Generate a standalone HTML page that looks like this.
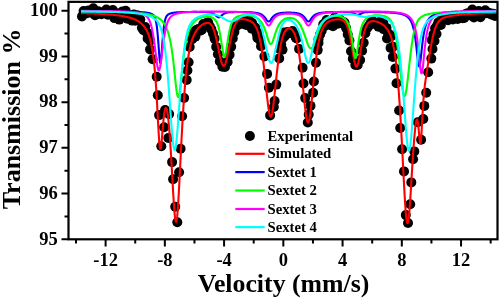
<!DOCTYPE html><html><head><meta charset="utf-8"><style>html,body{margin:0;padding:0;background:#fff;}svg{display:block;}</style></head><body>
<svg width="500" height="298" viewBox="0 0 500 298">
<rect x="0" y="0" width="500" height="298" fill="#fff"/>
<defs><clipPath id="c"><rect x="68.5" y="1.85" width="429.0" height="237.45000000000002"/></clipPath></defs>
<g clip-path="url(#c)" fill="#000"><circle cx="82.0" cy="16.4" r="5"/><circle cx="83.6" cy="11.1" r="5"/><circle cx="85.2" cy="12.4" r="5"/><circle cx="86.9" cy="13.3" r="5"/><circle cx="88.5" cy="10.4" r="5"/><circle cx="90.1" cy="12.4" r="5"/><circle cx="91.7" cy="12.5" r="5"/><circle cx="93.3" cy="8.2" r="5"/><circle cx="95.0" cy="15.2" r="5"/><circle cx="96.6" cy="14.2" r="5"/><circle cx="98.2" cy="11.2" r="5"/><circle cx="99.8" cy="12.4" r="5"/><circle cx="101.4" cy="14.2" r="5"/><circle cx="103.1" cy="12.4" r="5"/><circle cx="104.7" cy="12.5" r="5"/><circle cx="106.3" cy="9.6" r="5"/><circle cx="107.9" cy="14.8" r="5"/><circle cx="109.5" cy="13.8" r="5"/><circle cx="111.2" cy="14.3" r="5"/><circle cx="112.8" cy="10.0" r="5"/><circle cx="114.4" cy="18.1" r="5"/><circle cx="116.0" cy="14.5" r="5"/><circle cx="117.6" cy="13.4" r="5"/><circle cx="119.3" cy="19.6" r="5"/><circle cx="120.9" cy="14.7" r="5"/><circle cx="122.5" cy="11.4" r="5"/><circle cx="124.1" cy="14.3" r="5"/><circle cx="125.7" cy="10.7" r="5"/><circle cx="127.3" cy="18.8" r="5"/><circle cx="129.0" cy="15.7" r="5"/><circle cx="130.6" cy="15.4" r="5"/><circle cx="132.2" cy="20.6" r="5"/><circle cx="133.8" cy="14.5" r="5"/><circle cx="135.4" cy="20.8" r="5"/><circle cx="137.1" cy="15.3" r="5"/><circle cx="138.7" cy="19.8" r="5"/><circle cx="140.3" cy="19.6" r="5"/><circle cx="141.9" cy="27.7" r="5"/><circle cx="143.5" cy="30.2" r="5"/><circle cx="145.2" cy="27.1" r="5"/><circle cx="146.8" cy="32.8" r="5"/><circle cx="147.6" cy="38.5" r="5"/><circle cx="148.4" cy="33.8" r="5"/><circle cx="150.0" cy="40.6" r="5"/><circle cx="150.1" cy="49.4" r="5"/><circle cx="152.6" cy="59.2" r="5"/><circle cx="156.7" cy="76.8" r="5"/><circle cx="157.8" cy="95.3" r="5"/><circle cx="159.1" cy="115.1" r="5"/><circle cx="161.3" cy="146.3" r="5"/><circle cx="164.1" cy="127.2" r="5"/><circle cx="165.1" cy="110.1" r="5"/><circle cx="168.3" cy="138.0" r="5"/><circle cx="169.1" cy="114.1" r="5"/><circle cx="172.1" cy="162.1" r="5"/><circle cx="173.1" cy="179.2" r="5"/><circle cx="175.2" cy="206.7" r="5"/><circle cx="177.3" cy="222.2" r="5"/><circle cx="179.1" cy="172.2" r="5"/><circle cx="180.6" cy="148.8" r="5"/><circle cx="182.1" cy="116.2" r="5"/><circle cx="184.1" cy="98.0" r="5"/><circle cx="186.7" cy="80.0" r="5"/><circle cx="187.4" cy="70.5" r="5"/><circle cx="188.6" cy="62.3" r="5"/><circle cx="189.7" cy="47.0" r="5"/><circle cx="192.1" cy="38.8" r="5"/><circle cx="192.1" cy="39.3" r="5"/><circle cx="193.8" cy="33.0" r="5"/><circle cx="195.4" cy="36.6" r="5"/><circle cx="195.6" cy="30.6" r="5"/><circle cx="197.0" cy="29.8" r="5"/><circle cx="198.6" cy="29.0" r="5"/><circle cx="200.2" cy="30.8" r="5"/><circle cx="201.9" cy="29.8" r="5"/><circle cx="203.3" cy="24.1" r="5"/><circle cx="203.5" cy="24.5" r="5"/><circle cx="204.9" cy="24.1" r="5"/><circle cx="206.5" cy="23.1" r="5"/><circle cx="208.1" cy="22.2" r="5"/><circle cx="209.8" cy="26.2" r="5"/><circle cx="211.4" cy="29.4" r="5"/><circle cx="213.0" cy="33.6" r="5"/><circle cx="214.6" cy="38.6" r="5"/><circle cx="216.2" cy="46.9" r="5"/><circle cx="217.9" cy="54.3" r="5"/><circle cx="219.8" cy="61.4" r="5"/><circle cx="222.4" cy="66.8" r="5"/><circle cx="225.0" cy="66.9" r="5"/><circle cx="227.6" cy="61.9" r="5"/><circle cx="229.6" cy="54.8" r="5"/><circle cx="231.2" cy="46.8" r="5"/><circle cx="232.8" cy="38.4" r="5"/><circle cx="234.4" cy="31.9" r="5"/><circle cx="236.0" cy="26.5" r="5"/><circle cx="237.7" cy="24.1" r="5"/><circle cx="239.3" cy="24.4" r="5"/><circle cx="240.9" cy="22.4" r="5"/><circle cx="242.3" cy="22.3" r="5"/><circle cx="242.5" cy="20.9" r="5"/><circle cx="244.0" cy="21.5" r="5"/><circle cx="245.6" cy="24.8" r="5"/><circle cx="247.2" cy="24.9" r="5"/><circle cx="248.8" cy="20.4" r="5"/><circle cx="250.4" cy="25.3" r="5"/><circle cx="251.8" cy="28.7" r="5"/><circle cx="252.1" cy="23.1" r="5"/><circle cx="253.7" cy="29.0" r="5"/><circle cx="255.3" cy="27.5" r="5"/><circle cx="256.9" cy="34.3" r="5"/><circle cx="257.4" cy="37.9" r="5"/><circle cx="258.5" cy="33.3" r="5"/><circle cx="260.2" cy="40.4" r="5"/><circle cx="261.0" cy="46.3" r="5"/><circle cx="264.4" cy="56.4" r="5"/><circle cx="267.1" cy="73.9" r="5"/><circle cx="268.9" cy="87.8" r="5"/><circle cx="270.1" cy="115.4" r="5"/><circle cx="273.8" cy="107.0" r="5"/><circle cx="274.6" cy="101.0" r="5"/><circle cx="276.3" cy="84.6" r="5"/><circle cx="279.2" cy="58.4" r="5"/><circle cx="279.8" cy="49.0" r="5"/><circle cx="281.2" cy="44.6" r="5"/><circle cx="282.5" cy="49.7" r="5"/><circle cx="282.8" cy="38.1" r="5"/><circle cx="284.1" cy="32.4" r="5"/><circle cx="284.5" cy="36.4" r="5"/><circle cx="286.1" cy="33.5" r="5"/><circle cx="287.7" cy="32.0" r="5"/><circle cx="289.3" cy="33.2" r="5"/><circle cx="290.9" cy="32.0" r="5"/><circle cx="292.5" cy="31.0" r="5"/><circle cx="294.2" cy="34.1" r="5"/><circle cx="295.8" cy="37.8" r="5"/><circle cx="296.7" cy="38.4" r="5"/><circle cx="299.1" cy="48.9" r="5"/><circle cx="302.6" cy="67.7" r="5"/><circle cx="303.5" cy="83.5" r="5"/><circle cx="305.2" cy="98.1" r="5"/><circle cx="307.8" cy="122.5" r="5"/><circle cx="308.7" cy="114.6" r="5"/><circle cx="310.5" cy="105.9" r="5"/><circle cx="313.1" cy="92.8" r="5"/><circle cx="313.9" cy="81.5" r="5"/><circle cx="316.0" cy="62.7" r="5"/><circle cx="317.7" cy="50.1" r="5"/><circle cx="318.5" cy="43.0" r="5"/><circle cx="318.5" cy="39.2" r="5"/><circle cx="320.1" cy="34.4" r="5"/><circle cx="321.7" cy="30.8" r="5"/><circle cx="323.3" cy="24.3" r="5"/><circle cx="324.9" cy="26.0" r="5"/><circle cx="326.6" cy="20.1" r="5"/><circle cx="328.2" cy="23.1" r="5"/><circle cx="329.8" cy="24.6" r="5"/><circle cx="331.4" cy="25.1" r="5"/><circle cx="333.0" cy="26.2" r="5"/><circle cx="334.7" cy="17.5" r="5"/><circle cx="336.3" cy="22.9" r="5"/><circle cx="337.9" cy="23.7" r="5"/><circle cx="339.5" cy="23.0" r="5"/><circle cx="339.6" cy="19.2" r="5"/><circle cx="341.3" cy="21.0" r="5"/><circle cx="342.9" cy="23.6" r="5"/><circle cx="344.5" cy="22.5" r="5"/><circle cx="346.1" cy="28.1" r="5"/><circle cx="347.7" cy="34.5" r="5"/><circle cx="349.4" cy="40.5" r="5"/><circle cx="351.0" cy="51.2" r="5"/><circle cx="352.8" cy="58.7" r="5"/><circle cx="355.3" cy="65.0" r="5"/><circle cx="357.7" cy="65.0" r="5"/><circle cx="360.1" cy="60.0" r="5"/><circle cx="362.1" cy="50.7" r="5"/><circle cx="363.7" cy="42.7" r="5"/><circle cx="365.3" cy="33.2" r="5"/><circle cx="366.9" cy="28.5" r="5"/><circle cx="368.6" cy="26.2" r="5"/><circle cx="370.2" cy="23.8" r="5"/><circle cx="371.8" cy="21.0" r="5"/><circle cx="373.4" cy="22.7" r="5"/><circle cx="373.5" cy="21.6" r="5"/><circle cx="375.1" cy="24.0" r="5"/><circle cx="376.8" cy="24.0" r="5"/><circle cx="378.4" cy="26.7" r="5"/><circle cx="380.0" cy="24.4" r="5"/><circle cx="381.6" cy="20.2" r="5"/><circle cx="383.2" cy="22.3" r="5"/><circle cx="383.5" cy="29.1" r="5"/><circle cx="384.9" cy="28.8" r="5"/><circle cx="386.5" cy="27.9" r="5"/><circle cx="387.0" cy="38.5" r="5"/><circle cx="388.1" cy="33.7" r="5"/><circle cx="389.7" cy="34.5" r="5"/><circle cx="390.6" cy="47.9" r="5"/><circle cx="391.3" cy="36.2" r="5"/><circle cx="392.8" cy="57.0" r="5"/><circle cx="393.0" cy="46.7" r="5"/><circle cx="395.4" cy="68.6" r="5"/><circle cx="396.5" cy="83.3" r="5"/><circle cx="399.1" cy="110.5" r="5"/><circle cx="400.2" cy="128.0" r="5"/><circle cx="402.1" cy="149.2" r="5"/><circle cx="404.0" cy="171.4" r="5"/><circle cx="405.8" cy="215.1" r="5"/><circle cx="408.0" cy="223.0" r="5"/><circle cx="410.2" cy="204.2" r="5"/><circle cx="411.3" cy="182.4" r="5"/><circle cx="413.1" cy="159.2" r="5"/><circle cx="414.3" cy="151.4" r="5"/><circle cx="417.8" cy="122.2" r="5"/><circle cx="421.1" cy="139.7" r="5"/><circle cx="423.3" cy="119.0" r="5"/><circle cx="424.3" cy="105.9" r="5"/><circle cx="426.2" cy="92.7" r="5"/><circle cx="428.2" cy="72.3" r="5"/><circle cx="431.3" cy="58.6" r="5"/><circle cx="431.8" cy="40.1" r="5"/><circle cx="432.5" cy="49.0" r="5"/><circle cx="433.5" cy="34.4" r="5"/><circle cx="434.5" cy="41.0" r="5"/><circle cx="435.1" cy="28.2" r="5"/><circle cx="436.5" cy="34.0" r="5"/><circle cx="436.7" cy="26.2" r="5"/><circle cx="438.3" cy="22.4" r="5"/><circle cx="439.9" cy="24.5" r="5"/><circle cx="440.9" cy="25.0" r="5"/><circle cx="441.6" cy="19.0" r="5"/><circle cx="443.2" cy="18.8" r="5"/><circle cx="444.8" cy="16.8" r="5"/><circle cx="446.4" cy="19.0" r="5"/><circle cx="448.0" cy="20.3" r="5"/><circle cx="449.7" cy="16.4" r="5"/><circle cx="451.3" cy="17.8" r="5"/><circle cx="452.9" cy="19.5" r="5"/><circle cx="454.5" cy="17.1" r="5"/><circle cx="456.1" cy="15.7" r="5"/><circle cx="457.7" cy="19.0" r="5"/><circle cx="459.4" cy="16.4" r="5"/><circle cx="461.0" cy="16.8" r="5"/><circle cx="462.6" cy="18.3" r="5"/><circle cx="464.2" cy="17.9" r="5"/><circle cx="465.8" cy="13.9" r="5"/><circle cx="467.5" cy="13.3" r="5"/><circle cx="469.1" cy="15.2" r="5"/><circle cx="470.7" cy="14.1" r="5"/><circle cx="472.3" cy="9.6" r="5"/><circle cx="473.9" cy="17.4" r="5"/><circle cx="475.6" cy="14.2" r="5"/><circle cx="477.2" cy="15.9" r="5"/><circle cx="478.8" cy="11.1" r="5"/><circle cx="480.4" cy="17.2" r="5"/><circle cx="482.0" cy="12.4" r="5"/><circle cx="483.7" cy="13.6" r="5"/><circle cx="485.3" cy="10.3" r="5"/><circle cx="486.9" cy="13.3" r="5"/><circle cx="488.5" cy="13.1" r="5"/><circle cx="490.1" cy="13.2" r="5"/><circle cx="491.8" cy="14.7" r="5"/><circle cx="493.4" cy="13.7" r="5"/><circle cx="495.0" cy="15.9" r="5"/></g>
<g clip-path="url(#c)" fill="none" stroke-width="2.1" stroke-linejoin="round">
<polyline stroke="#ff0000" points="81.00,13.15 81.26,13.16 81.52,13.16 81.78,13.17 82.04,13.18 82.30,13.18 82.56,13.19 82.82,13.20 83.08,13.21 83.34,13.21 83.60,13.22 83.86,13.23 84.12,13.24 84.38,13.24 84.64,13.25 84.90,13.26 85.16,13.27 85.42,13.28 85.68,13.28 85.94,13.29 86.20,13.30 86.46,13.31 86.72,13.32 86.98,13.33 87.24,13.33 87.50,13.34 87.76,13.35 88.02,13.36 88.28,13.37 88.54,13.38 88.80,13.39 89.06,13.40 89.32,13.41 89.58,13.42 89.83,13.42 90.09,13.43 90.35,13.44 90.61,13.45 90.87,13.46 91.13,13.47 91.39,13.48 91.65,13.49 91.91,13.50 92.17,13.51 92.43,13.52 92.69,13.53 92.95,13.54 93.21,13.55 93.47,13.57 93.73,13.58 93.99,13.59 94.25,13.60 94.51,13.61 94.77,13.62 95.03,13.63 95.29,13.64 95.55,13.66 95.81,13.67 96.07,13.68 96.33,13.69 96.59,13.70 96.85,13.72 97.11,13.73 97.37,13.74 97.63,13.75 97.89,13.77 98.15,13.78 98.41,13.79 98.67,13.80 98.93,13.82 99.19,13.83 99.45,13.84 99.71,13.86 99.97,13.87 100.23,13.89 100.49,13.90 100.75,13.91 101.01,13.93 101.27,13.94 101.53,13.96 101.79,13.97 102.05,13.99 102.31,14.00 102.57,14.02 102.83,14.04 103.09,14.05 103.35,14.07 103.61,14.08 103.87,14.10 104.13,14.12 104.39,14.13 104.65,14.15 104.91,14.17 105.17,14.18 105.43,14.20 105.69,14.22 105.95,14.24 106.21,14.26 106.47,14.27 106.73,14.29 106.98,14.31 107.24,14.33 107.50,14.35 107.76,14.37 108.02,14.39 108.28,14.41 108.54,14.43 108.80,14.45 109.06,14.47 109.32,14.49 109.58,14.51 109.84,14.53 110.10,14.56 110.36,14.58 110.62,14.60 110.88,14.62 111.14,14.65 111.40,14.67 111.66,14.69 111.92,14.72 112.18,14.74 112.44,14.77 112.70,14.79 112.96,14.82 113.22,14.84 113.48,14.87 113.74,14.90 114.00,14.92 114.26,14.95 114.52,14.98 114.78,15.00 115.04,15.03 115.30,15.06 115.56,15.09 115.82,15.12 116.08,15.15 116.34,15.18 116.60,15.21 116.86,15.24 117.12,15.27 117.38,15.31 117.64,15.34 117.90,15.37 118.16,15.40 118.42,15.44 118.68,15.47 118.94,15.51 119.20,15.54 119.46,15.58 119.72,15.62 119.98,15.66 120.24,15.69 120.50,15.73 120.76,15.77 121.02,15.81 121.28,15.85 121.54,15.89 121.80,15.93 122.06,15.98 122.32,16.02 122.58,16.06 122.84,16.11 123.10,16.15 123.36,16.20 123.62,16.25 123.88,16.30 124.14,16.34 124.39,16.39 124.65,16.44 124.91,16.50 125.17,16.55 125.43,16.60 125.69,16.66 125.95,16.71 126.21,16.77 126.47,16.82 126.73,16.88 126.99,16.94 127.25,17.00 127.51,17.06 127.77,17.13 128.03,17.19 128.29,17.26 128.55,17.32 128.81,17.39 129.07,17.46 129.33,17.53 129.59,17.60 129.85,17.68 130.11,17.75 130.37,17.83 130.63,17.91 130.89,17.99 131.15,18.07 131.41,18.15 131.67,18.24 131.93,18.33 132.19,18.41 132.45,18.51 132.71,18.60 132.97,18.69 133.23,18.79 133.49,18.89 133.75,18.99 134.01,19.10 134.27,19.20 134.53,19.31 134.79,19.43 135.05,19.54 135.31,19.66 135.57,19.78 135.83,19.90 136.09,20.03 136.35,20.16 136.61,20.30 136.87,20.43 137.13,20.57 137.39,20.72 137.65,20.87 137.91,21.02 138.17,21.18 138.43,21.34 138.69,21.50 138.95,21.67 139.21,21.85 139.47,22.03 139.73,22.22 139.99,22.41 140.25,22.61 140.51,22.81 140.77,23.02 141.03,23.24 141.29,23.46 141.55,23.69 141.80,23.93 142.06,24.18 142.32,24.44 142.58,24.70 142.84,24.97 143.10,25.26 143.36,25.55 143.62,25.85 143.88,26.17 144.14,26.50 144.40,26.84 144.66,27.19 144.92,27.55 145.18,27.94 145.44,28.33 145.70,28.75 145.96,29.18 146.22,29.62 146.48,30.09 146.74,30.58 147.00,31.09 147.26,31.63 147.52,32.18 147.78,32.77 148.04,33.38 148.30,34.02 148.56,34.70 148.82,35.41 149.08,36.15 149.34,36.94 149.60,37.76 149.86,38.64 150.12,39.56 150.38,40.53 150.64,41.55 150.90,42.64 151.16,43.79 151.42,45.02 151.68,46.31 151.94,47.69 152.20,49.15 152.46,50.71 152.72,52.38 152.98,54.15 153.24,56.04 153.50,58.06 153.76,60.21 154.02,62.52 154.28,64.98 154.54,67.62 154.80,70.43 155.06,73.44 155.32,76.64 155.58,80.06 155.84,83.69 156.10,87.54 156.36,91.60 156.62,95.88 156.88,100.35 157.14,104.99 157.40,109.77 157.66,114.63 157.92,119.52 158.18,124.35 158.44,129.03 158.70,133.47 158.95,137.54 159.21,141.13 159.47,144.14 159.73,146.47 159.99,148.07 160.25,148.89 160.51,148.93 160.77,148.23 161.03,146.85 161.29,144.89 161.55,142.45 161.81,139.66 162.07,136.63 162.33,133.46 162.59,130.27 162.85,127.13 163.11,124.11 163.37,121.28 163.63,118.66 163.89,116.30 164.15,114.22 164.41,112.42 164.67,110.92 164.93,109.71 165.19,108.80 165.45,108.18 165.71,107.86 165.97,107.81 166.23,108.04 166.49,108.55 166.75,109.32 167.01,110.34 167.27,111.63 167.53,113.15 167.79,114.93 168.05,116.93 168.31,119.18 168.57,121.64 168.83,124.34 169.09,127.24 169.35,130.36 169.61,133.68 169.87,137.20 170.13,140.91 170.39,144.79 170.65,148.84 170.91,153.04 171.17,157.38 171.43,161.83 171.69,166.37 171.95,170.98 172.21,175.64 172.47,180.30 172.73,184.93 172.99,189.49 173.25,193.94 173.51,198.24 173.77,202.32 174.03,206.14 174.29,209.66 174.55,212.81 174.81,215.56 175.07,217.85 175.33,219.65 175.59,220.91 175.85,221.63 176.11,221.77 176.36,221.34 176.62,220.33 176.88,218.76 177.14,216.66 177.40,214.04 177.66,210.95 177.92,207.44 178.18,203.54 178.44,199.31 178.70,194.79 178.96,190.04 179.22,185.11 179.48,180.03 179.74,174.86 180.00,169.63 180.26,164.37 180.52,159.12 180.78,153.91 181.04,148.76 181.30,143.69 181.56,138.72 181.82,133.85 182.08,129.11 182.34,124.50 182.60,120.03 182.86,115.70 183.12,111.52 183.38,107.49 183.64,103.60 183.90,99.87 184.16,96.28 184.42,92.84 184.68,89.55 184.94,86.40 185.20,83.38 185.46,80.50 185.72,77.75 185.98,75.13 186.24,72.64 186.50,70.26 186.76,67.99 187.02,65.84 187.28,63.79 187.54,61.84 187.80,59.99 188.06,58.24 188.32,56.57 188.58,54.98 188.84,53.48 189.10,52.05 189.36,50.69 189.62,49.40 189.88,48.18 190.14,47.02 190.40,45.91 190.66,44.86 190.92,43.86 191.18,42.91 191.44,42.01 191.70,41.15 191.96,40.33 192.22,39.55 192.48,38.80 192.74,38.09 193.00,37.41 193.26,36.76 193.52,36.14 193.77,35.55 194.03,34.98 194.29,34.43 194.55,33.91 194.81,33.41 195.07,32.93 195.33,32.47 195.59,32.02 195.85,31.59 196.11,31.18 196.37,30.79 196.63,30.41 196.89,30.04 197.15,29.69 197.41,29.35 197.67,29.02 197.93,28.70 198.19,28.39 198.45,28.10 198.71,27.81 198.97,27.54 199.23,27.27 199.49,27.01 199.75,26.77 200.01,26.53 200.27,26.29 200.53,26.07 200.79,25.85 201.05,25.65 201.31,25.44 201.57,25.25 201.83,25.06 202.09,24.88 202.35,24.71 202.61,24.54 202.87,24.38 203.13,24.23 203.39,24.08 203.65,23.94 203.91,23.81 204.17,23.68 204.43,23.56 204.69,23.45 204.95,23.35 205.21,23.25 205.47,23.17 205.73,23.09 205.99,23.02 206.25,22.96 206.51,22.91 206.77,22.87 207.03,22.84 207.29,22.83 207.55,22.82 207.81,22.84 208.07,22.86 208.33,22.90 208.59,22.96 208.85,23.04 209.11,23.14 209.37,23.26 209.63,23.40 209.89,23.56 210.15,23.75 210.41,23.97 210.67,24.21 210.92,24.48 211.18,24.79 211.44,25.13 211.70,25.50 211.96,25.91 212.22,26.35 212.48,26.83 212.74,27.36 213.00,27.92 213.26,28.53 213.52,29.18 213.78,29.87 214.04,30.61 214.30,31.39 214.56,32.22 214.82,33.09 215.08,34.00 215.34,34.96 215.60,35.96 215.86,37.00 216.12,38.08 216.38,39.19 216.64,40.34 216.90,41.52 217.16,42.73 217.42,43.96 217.68,45.21 217.94,46.47 218.20,47.75 218.46,49.03 218.72,50.31 218.98,51.59 219.24,52.85 219.50,54.10 219.76,55.32 220.02,56.51 220.28,57.66 220.54,58.77 220.80,59.82 221.06,60.81 221.32,61.73 221.58,62.58 221.84,63.35 222.10,64.03 222.36,64.61 222.62,65.10 222.88,65.48 223.14,65.76 223.40,65.92 223.66,65.98 223.92,65.92 224.18,65.75 224.44,65.46 224.70,65.07 224.96,64.58 225.22,63.98 225.48,63.29 225.74,62.51 226.00,61.64 226.26,60.70 226.52,59.69 226.78,58.61 227.04,57.48 227.30,56.30 227.56,55.08 227.82,53.82 228.08,52.54 228.33,51.24 228.59,49.92 228.85,48.59 229.11,47.26 229.37,45.94 229.63,44.62 229.89,43.32 230.15,42.03 230.41,40.77 230.67,39.53 230.93,38.33 231.19,37.15 231.45,36.01 231.71,34.91 231.97,33.85 232.23,32.82 232.49,31.84 232.75,30.91 233.01,30.01 233.27,29.16 233.53,28.36 233.79,27.59 234.05,26.87 234.31,26.20 234.57,25.56 234.83,24.97 235.09,24.41 235.35,23.89 235.61,23.41 235.87,22.97 236.13,22.56 236.39,22.18 236.65,21.83 236.91,21.51 237.17,21.22 237.43,20.96 237.69,20.72 237.95,20.50 238.21,20.30 238.47,20.13 238.73,19.97 238.99,19.83 239.25,19.71 239.51,19.60 239.77,19.50 240.03,19.42 240.29,19.35 240.55,19.29 240.81,19.24 241.07,19.20 241.33,19.16 241.59,19.14 241.85,19.12 242.11,19.11 242.37,19.11 242.63,19.11 242.89,19.12 243.15,19.13 243.41,19.15 243.67,19.17 243.93,19.20 244.19,19.23 244.45,19.26 244.71,19.30 244.97,19.34 245.23,19.39 245.48,19.44 245.74,19.49 246.00,19.55 246.26,19.61 246.52,19.67 246.78,19.74 247.04,19.81 247.30,19.89 247.56,19.97 247.82,20.05 248.08,20.14 248.34,20.24 248.60,20.33 248.86,20.44 249.12,20.54 249.38,20.66 249.64,20.78 249.90,20.90 250.16,21.03 250.42,21.17 250.68,21.32 250.94,21.47 251.20,21.63 251.46,21.80 251.72,21.98 251.98,22.17 252.24,22.38 252.50,22.59 252.76,22.82 253.02,23.06 253.28,23.31 253.54,23.58 253.80,23.87 254.06,24.17 254.32,24.50 254.58,24.84 254.84,25.21 255.10,25.60 255.36,26.02 255.62,26.46 255.88,26.94 256.14,27.44 256.40,27.98 256.66,28.55 256.92,29.16 257.18,29.81 257.44,30.50 257.70,31.24 257.96,32.02 258.22,32.85 258.48,33.72 258.74,34.65 259.00,35.64 259.26,36.68 259.52,37.78 259.78,38.95 260.04,40.17 260.30,41.46 260.56,42.81 260.82,44.24 261.08,45.73 261.34,47.29 261.60,48.92 261.86,50.62 262.12,52.40 262.38,54.24 262.64,56.15 262.89,58.14 263.15,60.19 263.41,62.30 263.67,64.48 263.93,66.72 264.19,69.02 264.45,71.37 264.71,73.76 264.97,76.20 265.23,78.67 265.49,81.17 265.75,83.69 266.01,86.22 266.27,88.74 266.53,91.25 266.79,93.74 267.05,96.18 267.31,98.57 267.57,100.88 267.83,103.11 268.09,105.23 268.35,107.22 268.61,109.07 268.87,110.75 269.13,112.25 269.39,113.56 269.65,114.65 269.91,115.51 270.17,116.14 270.43,116.53 270.69,116.66 270.95,116.55 271.21,116.19 271.47,115.58 271.73,114.73 271.99,113.67 272.25,112.39 272.51,110.91 272.77,109.26 273.03,107.44 273.29,105.49 273.55,103.40 273.81,101.22 274.07,98.94 274.33,96.60 274.59,94.20 274.85,91.76 275.11,89.30 275.37,86.82 275.63,84.35 275.89,81.89 276.15,79.44 276.41,77.03 276.67,74.65 276.93,72.31 277.19,70.02 277.45,67.79 277.71,65.61 277.97,63.50 278.23,61.45 278.49,59.47 278.75,57.55 279.01,55.71 279.27,53.94 279.53,52.24 279.79,50.61 280.05,49.05 280.30,47.57 280.56,46.15 280.82,44.81 281.08,43.53 281.34,42.32 281.60,41.18 281.86,40.11 282.12,39.09 282.38,38.14 282.64,37.24 282.90,36.40 283.16,35.62 283.42,34.89 283.68,34.20 283.94,33.57 284.20,32.98 284.46,32.44 284.72,31.94 284.98,31.48 285.24,31.06 285.50,30.67 285.76,30.32 286.02,30.00 286.28,29.71 286.54,29.46 286.80,29.23 287.06,29.03 287.32,28.86 287.58,28.71 287.84,28.59 288.10,28.49 288.36,28.41 288.62,28.36 288.88,28.33 289.14,28.32 289.40,28.33 289.66,28.37 289.92,28.43 290.18,28.51 290.44,28.61 290.70,28.74 290.96,28.89 291.22,29.07 291.48,29.27 291.74,29.50 292.00,29.75 292.26,30.03 292.52,30.35 292.78,30.69 293.04,31.07 293.30,31.48 293.56,31.93 293.82,32.42 294.08,32.94 294.34,33.51 294.60,34.12 294.86,34.78 295.12,35.49 295.38,36.25 295.64,37.05 295.90,37.92 296.16,38.84 296.42,39.82 296.68,40.86 296.94,41.96 297.20,43.13 297.45,44.36 297.71,45.67 297.97,47.04 298.23,48.48 298.49,50.00 298.75,51.59 299.01,53.26 299.27,55.00 299.53,56.81 299.79,58.70 300.05,60.66 300.31,62.70 300.57,64.80 300.83,66.98 301.09,69.22 301.35,71.53 301.61,73.90 301.87,76.32 302.13,78.79 302.39,81.31 302.65,83.86 302.91,86.44 303.17,89.05 303.43,91.66 303.69,94.27 303.95,96.86 304.21,99.43 304.47,101.95 304.73,104.42 304.99,106.80 305.25,109.09 305.51,111.26 305.77,113.30 306.03,115.18 306.29,116.89 306.55,118.41 306.81,119.71 307.07,120.79 307.33,121.62 307.59,122.20 307.85,122.52 308.11,122.58 308.37,122.37 308.63,121.90 308.89,121.17 309.15,120.20 309.41,118.99 309.67,117.55 309.93,115.91 310.19,114.09 310.45,112.10 310.71,109.96 310.97,107.69 311.23,105.32 311.49,102.86 311.75,100.32 312.01,97.74 312.27,95.11 312.53,92.46 312.79,89.81 313.05,87.15 313.31,84.51 313.57,81.89 313.83,79.30 314.09,76.76 314.35,74.25 314.61,71.80 314.86,69.41 315.12,67.08 315.38,64.81 315.64,62.61 315.90,60.48 316.16,58.42 316.42,56.43 316.68,54.52 316.94,52.68 317.20,50.91 317.46,49.21 317.72,47.59 317.98,46.04 318.24,44.57 318.50,43.16 318.76,41.82 319.02,40.54 319.28,39.33 319.54,38.18 319.80,37.10 320.06,36.07 320.32,35.09 320.58,34.18 320.84,33.31 321.10,32.49 321.36,31.72 321.62,30.99 321.88,30.31 322.14,29.67 322.40,29.06 322.66,28.49 322.92,27.96 323.18,27.45 323.44,26.98 323.70,26.53 323.96,26.11 324.22,25.72 324.48,25.35 324.74,25.00 325.00,24.67 325.26,24.36 325.52,24.07 325.78,23.80 326.04,23.54 326.30,23.29 326.56,23.06 326.82,22.84 327.08,22.63 327.34,22.44 327.60,22.25 327.86,22.07 328.12,21.90 328.38,21.75 328.64,21.59 328.90,21.45 329.16,21.31 329.42,21.18 329.68,21.06 329.94,20.94 330.20,20.83 330.46,20.72 330.72,20.62 330.98,20.52 331.24,20.43 331.50,20.34 331.76,20.25 332.02,20.17 332.27,20.10 332.53,20.03 332.79,19.96 333.05,19.89 333.31,19.83 333.57,19.78 333.83,19.72 334.09,19.67 334.35,19.62 334.61,19.58 334.87,19.54 335.13,19.50 335.39,19.47 335.65,19.44 335.91,19.41 336.17,19.38 336.43,19.36 336.69,19.34 336.95,19.33 337.21,19.32 337.47,19.31 337.73,19.31 337.99,19.31 338.25,19.31 338.51,19.32 338.77,19.33 339.03,19.34 339.29,19.36 339.55,19.39 339.81,19.42 340.07,19.46 340.33,19.50 340.59,19.55 340.85,19.61 341.11,19.67 341.37,19.75 341.63,19.83 341.89,19.92 342.15,20.03 342.41,20.14 342.67,20.27 342.93,20.42 343.19,20.58 343.45,20.76 343.71,20.96 343.97,21.17 344.23,21.42 344.49,21.68 344.75,21.97 345.01,22.30 345.27,22.65 345.53,23.03 345.79,23.45 346.05,23.91 346.31,24.41 346.57,24.95 346.83,25.53 347.09,26.16 347.35,26.83 347.61,27.56 347.87,28.34 348.13,29.17 348.39,30.06 348.65,31.00 348.91,32.00 349.17,33.05 349.42,34.16 349.68,35.32 349.94,36.54 350.20,37.81 350.46,39.13 350.72,40.49 350.98,41.90 351.24,43.35 351.50,44.83 351.76,46.33 352.02,47.86 352.28,49.41 352.54,50.95 352.80,52.50 353.06,54.03 353.32,55.53 353.58,57.00 353.84,58.41 354.10,59.76 354.36,61.03 354.62,62.20 354.88,63.26 355.14,64.20 355.40,65.00 355.66,65.65 355.92,66.13 356.18,66.45 356.44,66.60 356.70,66.56 356.96,66.35 357.22,65.97 357.48,65.43 357.74,64.72 358.00,63.88 358.26,62.90 358.52,61.80 358.78,60.60 359.04,59.31 359.30,57.95 359.56,56.54 359.82,55.07 360.08,53.58 360.34,52.06 360.60,50.53 360.86,49.01 361.12,47.49 361.38,46.00 361.64,44.52 361.90,43.08 362.16,41.68 362.42,40.31 362.68,38.99 362.94,37.72 363.20,36.50 363.46,35.33 363.72,34.22 363.98,33.16 364.24,32.16 364.50,31.22 364.76,30.33 365.02,29.49 365.28,28.71 365.54,27.99 365.80,27.31 366.06,26.68 366.32,26.10 366.58,25.57 366.83,25.08 367.09,24.63 367.35,24.21 367.61,23.84 367.87,23.50 368.13,23.19 368.39,22.91 368.65,22.66 368.91,22.44 369.17,22.24 369.43,22.06 369.69,21.91 369.95,21.77 370.21,21.65 370.47,21.54 370.73,21.45 370.99,21.37 371.25,21.31 371.51,21.25 371.77,21.21 372.03,21.18 372.29,21.15 372.55,21.14 372.81,21.13 373.07,21.13 373.33,21.13 373.59,21.14 373.85,21.16 374.11,21.18 374.37,21.21 374.63,21.24 374.89,21.28 375.15,21.33 375.41,21.37 375.67,21.43 375.93,21.48 376.19,21.54 376.45,21.61 376.71,21.68 376.97,21.75 377.23,21.83 377.49,21.91 377.75,22.00 378.01,22.09 378.27,22.19 378.53,22.29 378.79,22.39 379.05,22.50 379.31,22.61 379.57,22.73 379.83,22.85 380.09,22.98 380.35,23.12 380.61,23.25 380.87,23.40 381.13,23.55 381.39,23.70 381.65,23.86 381.91,24.03 382.17,24.20 382.43,24.38 382.69,24.57 382.95,24.76 383.21,24.96 383.47,25.17 383.73,25.38 383.98,25.60 384.24,25.83 384.50,26.07 384.76,26.32 385.02,26.58 385.28,26.85 385.54,27.13 385.80,27.42 386.06,27.72 386.32,28.04 386.58,28.36 386.84,28.70 387.10,29.06 387.36,29.43 387.62,29.82 387.88,30.22 388.14,30.65 388.40,31.09 388.66,31.56 388.92,32.04 389.18,32.56 389.44,33.09 389.70,33.66 389.96,34.25 390.22,34.87 390.48,35.53 390.74,36.22 391.00,36.95 391.26,37.72 391.52,38.53 391.78,39.38 392.04,40.29 392.30,41.24 392.56,42.25 392.82,43.32 393.08,44.45 393.34,45.64 393.60,46.90 393.86,48.23 394.12,49.64 394.38,51.12 394.64,52.69 394.90,54.35 395.16,56.09 395.42,57.94 395.68,59.88 395.94,61.92 396.20,64.07 396.46,66.34 396.72,68.71 396.98,71.21 397.24,73.83 397.50,76.57 397.76,79.44 398.02,82.44 398.28,85.58 398.54,88.85 398.80,92.26 399.06,95.80 399.32,99.48 399.58,103.30 399.84,107.26 400.10,111.35 400.36,115.58 400.62,119.93 400.88,124.40 401.14,129.00 401.39,133.70 401.65,138.50 401.91,143.39 402.17,148.36 402.43,153.38 402.69,158.45 402.95,163.54 403.21,168.63 403.47,173.69 403.73,178.70 403.99,183.62 404.25,188.42 404.51,193.07 404.77,197.52 405.03,201.73 405.29,205.68 405.55,209.31 405.81,212.58 406.07,215.47 406.33,217.94 406.59,219.95 406.85,221.49 407.11,222.53 407.37,223.08 407.63,223.11 407.89,222.64 408.15,221.68 408.41,220.25 408.67,218.37 408.93,216.07 409.19,213.40 409.45,210.38 409.71,207.05 409.97,203.47 410.23,199.67 410.49,195.69 410.75,191.58 411.01,187.37 411.27,183.11 411.53,178.81 411.79,174.52 412.05,170.26 412.31,166.06 412.57,161.94 412.83,157.92 413.09,154.02 413.35,150.25 413.61,146.62 413.87,143.16 414.13,139.86 414.39,136.75 414.65,133.83 414.91,131.12 415.17,128.64 415.43,126.40 415.69,124.43 415.95,122.75 416.21,121.38 416.47,120.38 416.73,119.76 416.99,119.57 417.25,119.82 417.51,120.55 417.77,121.76 418.03,123.44 418.29,125.56 418.55,128.07 418.80,130.87 419.06,133.85 419.32,136.81 419.58,139.54 419.84,141.79 420.10,143.26 420.36,143.71 420.62,142.99 420.88,141.10 421.14,138.15 421.40,134.37 421.66,130.04 421.92,125.40 422.18,120.66 422.44,115.98 422.70,111.48 422.96,107.24 423.22,103.30 423.48,99.69 423.74,96.41 424.00,93.43 424.26,90.74 424.52,88.28 424.78,86.03 425.04,83.95 425.30,82.00 425.56,80.14 425.82,78.35 426.08,76.62 426.34,74.91 426.60,73.22 426.86,71.55 427.12,69.88 427.38,68.21 427.64,66.54 427.90,64.88 428.16,63.21 428.42,61.56 428.68,59.91 428.94,58.27 429.20,56.65 429.46,55.04 429.72,53.46 429.98,51.89 430.24,50.36 430.50,48.85 430.76,47.37 431.02,45.93 431.28,44.52 431.54,43.15 431.80,41.81 432.06,40.52 432.32,39.27 432.58,38.07 432.84,36.91 433.10,35.79 433.36,34.71 433.62,33.69 433.88,32.70 434.14,31.76 434.40,30.87 434.66,30.01 434.92,29.20 435.18,28.43 435.44,27.70 435.70,27.01 435.95,26.36 436.21,25.75 436.47,25.17 436.73,24.62 436.99,24.11 437.25,23.63 437.51,23.17 437.77,22.75 438.03,22.35 438.29,21.98 438.55,21.63 438.81,21.30 439.07,20.99 439.33,20.71 439.59,20.44 439.85,20.19 440.11,19.95 440.37,19.73 440.63,19.53 440.89,19.33 441.15,19.15 441.41,18.98 441.67,18.82 441.93,18.67 442.19,18.52 442.45,18.39 442.71,18.26 442.97,18.14 443.23,18.03 443.49,17.92 443.75,17.81 444.01,17.71 444.27,17.62 444.53,17.53 444.79,17.44 445.05,17.36 445.31,17.28 445.57,17.20 445.83,17.12 446.09,17.05 446.35,16.98 446.61,16.91 446.87,16.84 447.13,16.78 447.39,16.72 447.65,16.66 447.91,16.60 448.17,16.54 448.43,16.48 448.69,16.43 448.95,16.37 449.21,16.32 449.47,16.27 449.73,16.22 449.99,16.17 450.25,16.12 450.51,16.07 450.77,16.02 451.03,15.98 451.29,15.93 451.55,15.89 451.81,15.84 452.07,15.80 452.33,15.76 452.59,15.72 452.85,15.67 453.11,15.63 453.36,15.59 453.62,15.56 453.88,15.52 454.14,15.48 454.40,15.44 454.66,15.41 454.92,15.37 455.18,15.34 455.44,15.30 455.70,15.27 455.96,15.23 456.22,15.20 456.48,15.17 456.74,15.14 457.00,15.10 457.26,15.07 457.52,15.04 457.78,15.01 458.04,14.98 458.30,14.95 458.56,14.92 458.82,14.89 459.08,14.87 459.34,14.84 459.60,14.81 459.86,14.78 460.12,14.76 460.38,14.73 460.64,14.71 460.90,14.68 461.16,14.66 461.42,14.63 461.68,14.61 461.94,14.58 462.20,14.56 462.46,14.54 462.72,14.51 462.98,14.49 463.24,14.47 463.50,14.45 463.76,14.42 464.02,14.40 464.28,14.38 464.54,14.36 464.80,14.34 465.06,14.32 465.32,14.30 465.58,14.28 465.84,14.26 466.10,14.24 466.36,14.22 466.62,14.20 466.88,14.18 467.14,14.16 467.40,14.15 467.66,14.13 467.92,14.11 468.18,14.09 468.44,14.07 468.70,14.06 468.96,14.04 469.22,14.02 469.48,14.01 469.74,13.99 470.00,13.97 470.26,13.96 470.52,13.94 470.77,13.93 471.03,13.91 471.29,13.90 471.55,13.88 471.81,13.87 472.07,13.85 472.33,13.84 472.59,13.82 472.85,13.81 473.11,13.79 473.37,13.78 473.63,13.77 473.89,13.75 474.15,13.74 474.41,13.73 474.67,13.71 474.93,13.70 475.19,13.69 475.45,13.67 475.71,13.66 475.97,13.65 476.23,13.64 476.49,13.62 476.75,13.61 477.01,13.60 477.27,13.59 477.53,13.58 477.79,13.57 478.05,13.55 478.31,13.54 478.57,13.53 478.83,13.52 479.09,13.51 479.35,13.50 479.61,13.49 479.87,13.48 480.13,13.47 480.39,13.46 480.65,13.45 480.91,13.44 481.17,13.43 481.43,13.42 481.69,13.41 481.95,13.40 482.21,13.39 482.47,13.38 482.73,13.37 482.99,13.36 483.25,13.35 483.51,13.34 483.77,13.33 484.03,13.32 484.29,13.31 484.55,13.30 484.81,13.29 485.07,13.29 485.33,13.28 485.59,13.27 485.85,13.26 486.11,13.25 486.37,13.24 486.63,13.23 486.89,13.23 487.15,13.22 487.41,13.21 487.67,13.20 487.92,13.19 488.18,13.19 488.44,13.18 488.70,13.17 488.96,13.16 489.22,13.16 489.48,13.15 489.74,13.14 490.00,13.13 490.26,13.13 490.52,13.12 490.78,13.11 491.04,13.10 491.30,13.10 491.56,13.09 491.82,13.08 492.08,13.08 492.34,13.07 492.60,13.06 492.86,13.06 493.12,13.05 493.38,13.04 493.64,13.04 493.90,13.03 494.16,13.02 494.42,13.02 494.68,13.01 494.94,13.01 495.20,13.00 495.46,12.99 495.72,12.99 495.98,12.98 496.24,12.98 496.50,12.97"/>
<polyline stroke="#0000ff" points="81.00,11.65 81.26,11.65 81.52,11.65 81.78,11.65 82.04,11.65 82.30,11.65 82.56,11.65 82.82,11.65 83.08,11.65 83.34,11.65 83.60,11.65 83.86,11.65 84.12,11.65 84.38,11.65 84.64,11.65 84.90,11.65 85.16,11.65 85.42,11.65 85.68,11.65 85.94,11.65 86.20,11.65 86.46,11.66 86.72,11.66 86.98,11.66 87.24,11.66 87.50,11.66 87.76,11.66 88.02,11.66 88.28,11.66 88.54,11.66 88.80,11.66 89.06,11.66 89.32,11.66 89.58,11.66 89.83,11.66 90.09,11.66 90.35,11.66 90.61,11.66 90.87,11.66 91.13,11.66 91.39,11.66 91.65,11.66 91.91,11.66 92.17,11.66 92.43,11.66 92.69,11.66 92.95,11.66 93.21,11.66 93.47,11.66 93.73,11.66 93.99,11.67 94.25,11.67 94.51,11.67 94.77,11.67 95.03,11.67 95.29,11.67 95.55,11.67 95.81,11.67 96.07,11.67 96.33,11.67 96.59,11.67 96.85,11.67 97.11,11.67 97.37,11.67 97.63,11.67 97.89,11.67 98.15,11.67 98.41,11.67 98.67,11.67 98.93,11.67 99.19,11.67 99.45,11.67 99.71,11.68 99.97,11.68 100.23,11.68 100.49,11.68 100.75,11.68 101.01,11.68 101.27,11.68 101.53,11.68 101.79,11.68 102.05,11.68 102.31,11.68 102.57,11.68 102.83,11.68 103.09,11.68 103.35,11.68 103.61,11.68 103.87,11.68 104.13,11.68 104.39,11.69 104.65,11.69 104.91,11.69 105.17,11.69 105.43,11.69 105.69,11.69 105.95,11.69 106.21,11.69 106.47,11.69 106.73,11.69 106.98,11.69 107.24,11.69 107.50,11.69 107.76,11.69 108.02,11.69 108.28,11.70 108.54,11.70 108.80,11.70 109.06,11.70 109.32,11.70 109.58,11.70 109.84,11.70 110.10,11.70 110.36,11.70 110.62,11.70 110.88,11.70 111.14,11.70 111.40,11.71 111.66,11.71 111.92,11.71 112.18,11.71 112.44,11.71 112.70,11.71 112.96,11.71 113.22,11.71 113.48,11.71 113.74,11.71 114.00,11.72 114.26,11.72 114.52,11.72 114.78,11.72 115.04,11.72 115.30,11.72 115.56,11.72 115.82,11.72 116.08,11.73 116.34,11.73 116.60,11.73 116.86,11.73 117.12,11.73 117.38,11.73 117.64,11.73 117.90,11.73 118.16,11.74 118.42,11.74 118.68,11.74 118.94,11.74 119.20,11.74 119.46,11.74 119.72,11.74 119.98,11.75 120.24,11.75 120.50,11.75 120.76,11.75 121.02,11.75 121.28,11.75 121.54,11.76 121.80,11.76 122.06,11.76 122.32,11.76 122.58,11.76 122.84,11.77 123.10,11.77 123.36,11.77 123.62,11.77 123.88,11.77 124.14,11.78 124.39,11.78 124.65,11.78 124.91,11.78 125.17,11.78 125.43,11.79 125.69,11.79 125.95,11.79 126.21,11.79 126.47,11.80 126.73,11.80 126.99,11.80 127.25,11.81 127.51,11.81 127.77,11.81 128.03,11.81 128.29,11.82 128.55,11.82 128.81,11.82 129.07,11.83 129.33,11.83 129.59,11.83 129.85,11.84 130.11,11.84 130.37,11.84 130.63,11.85 130.89,11.85 131.15,11.86 131.41,11.86 131.67,11.86 131.93,11.87 132.19,11.87 132.45,11.88 132.71,11.88 132.97,11.89 133.23,11.89 133.49,11.90 133.75,11.90 134.01,11.91 134.27,11.91 134.53,11.92 134.79,11.93 135.05,11.93 135.31,11.94 135.57,11.94 135.83,11.95 136.09,11.96 136.35,11.96 136.61,11.97 136.87,11.98 137.13,11.99 137.39,12.00 137.65,12.00 137.91,12.01 138.17,12.02 138.43,12.03 138.69,12.04 138.95,12.05 139.21,12.06 139.47,12.07 139.73,12.08 139.99,12.09 140.25,12.10 140.51,12.12 140.77,12.13 141.03,12.14 141.29,12.16 141.55,12.17 141.80,12.19 142.06,12.20 142.32,12.22 142.58,12.23 142.84,12.25 143.10,12.27 143.36,12.29 143.62,12.31 143.88,12.33 144.14,12.35 144.40,12.37 144.66,12.40 144.92,12.42 145.18,12.45 145.44,12.48 145.70,12.51 145.96,12.54 146.22,12.57 146.48,12.60 146.74,12.64 147.00,12.68 147.26,12.72 147.52,12.76 147.78,12.81 148.04,12.85 148.30,12.91 148.56,12.96 148.82,13.02 149.08,13.08 149.34,13.14 149.60,13.21 149.86,13.29 150.12,13.37 150.38,13.45 150.64,13.55 150.90,13.64 151.16,13.75 151.42,13.87 151.68,13.99 151.94,14.13 152.20,14.28 152.46,14.45 152.72,14.63 152.98,14.84 153.24,15.06 153.50,15.32 153.76,15.62 154.02,15.96 154.28,16.35 154.54,16.81 154.80,17.35 155.06,17.99 155.32,18.74 155.58,19.63 155.84,20.68 156.10,21.91 156.36,23.35 156.62,25.02 156.88,26.93 157.14,29.11 157.40,31.56 157.66,34.29 157.92,37.28 158.18,40.50 158.44,43.91 158.70,47.44 158.95,50.98 159.21,54.39 159.47,57.50 159.73,60.09 159.99,61.97 160.25,62.96 160.51,62.95 160.77,61.96 161.03,60.08 161.29,57.48 161.55,54.37 161.81,50.96 162.07,47.42 162.33,43.89 162.59,40.48 162.85,37.26 163.11,34.27 163.37,31.55 163.63,29.10 163.89,26.92 164.15,25.01 164.41,23.35 164.67,21.91 164.93,20.68 165.19,19.63 165.45,18.75 165.71,18.00 165.97,17.36 166.23,16.82 166.49,16.36 166.75,15.97 167.01,15.63 167.27,15.34 167.53,15.08 167.79,14.85 168.05,14.65 168.31,14.46 168.57,14.30 168.83,14.15 169.09,14.01 169.35,13.89 169.61,13.77 169.87,13.66 170.13,13.57 170.39,13.47 170.65,13.39 170.91,13.31 171.17,13.24 171.43,13.17 171.69,13.10 171.95,13.04 172.21,12.98 172.47,12.93 172.73,12.88 172.99,12.83 173.25,12.79 173.51,12.75 173.77,12.71 174.03,12.67 174.29,12.64 174.55,12.60 174.81,12.57 175.07,12.54 175.33,12.51 175.59,12.48 175.85,12.46 176.11,12.43 176.36,12.41 176.62,12.39 176.88,12.37 177.14,12.35 177.40,12.33 177.66,12.31 177.92,12.29 178.18,12.28 178.44,12.26 178.70,12.24 178.96,12.23 179.22,12.22 179.48,12.20 179.74,12.19 180.00,12.18 180.26,12.17 180.52,12.15 180.78,12.14 181.04,12.13 181.30,12.12 181.56,12.11 181.82,12.10 182.08,12.09 182.34,12.09 182.60,12.08 182.86,12.07 183.12,12.06 183.38,12.05 183.64,12.05 183.90,12.04 184.16,12.03 184.42,12.03 184.68,12.02 184.94,12.02 185.20,12.01 185.46,12.01 185.72,12.00 185.98,12.00 186.24,11.99 186.50,11.99 186.76,11.98 187.02,11.98 187.28,11.97 187.54,11.97 187.80,11.97 188.06,11.96 188.32,11.96 188.58,11.96 188.84,11.95 189.10,11.95 189.36,11.95 189.62,11.95 189.88,11.94 190.14,11.94 190.40,11.94 190.66,11.94 190.92,11.93 191.18,11.93 191.44,11.93 191.70,11.93 191.96,11.93 192.22,11.93 192.48,11.93 192.74,11.92 193.00,11.92 193.26,11.92 193.52,11.92 193.77,11.92 194.03,11.92 194.29,11.92 194.55,11.92 194.81,11.92 195.07,11.92 195.33,11.92 195.59,11.92 195.85,11.92 196.11,11.92 196.37,11.92 196.63,11.92 196.89,11.92 197.15,11.92 197.41,11.92 197.67,11.93 197.93,11.93 198.19,11.93 198.45,11.93 198.71,11.93 198.97,11.93 199.23,11.94 199.49,11.94 199.75,11.94 200.01,11.94 200.27,11.95 200.53,11.95 200.79,11.95 201.05,11.95 201.31,11.96 201.57,11.96 201.83,11.97 202.09,11.97 202.35,11.98 202.61,11.98 202.87,11.99 203.13,11.99 203.39,12.00 203.65,12.00 203.91,12.01 204.17,12.02 204.43,12.02 204.69,12.03 204.95,12.04 205.21,12.05 205.47,12.06 205.73,12.07 205.99,12.08 206.25,12.09 206.51,12.10 206.77,12.12 207.03,12.13 207.29,12.14 207.55,12.16 207.81,12.18 208.07,12.20 208.33,12.22 208.59,12.24 208.85,12.27 209.11,12.30 209.37,12.33 209.63,12.36 209.89,12.40 210.15,12.44 210.41,12.49 210.67,12.54 210.92,12.60 211.18,12.66 211.44,12.73 211.70,12.81 211.96,12.90 212.22,12.99 212.48,13.10 212.74,13.21 213.00,13.34 213.26,13.47 213.52,13.62 213.78,13.78 214.04,13.95 214.30,14.13 214.56,14.32 214.82,14.53 215.08,14.74 215.34,14.96 215.60,15.19 215.86,15.43 216.12,15.67 216.38,15.91 216.64,16.14 216.90,16.37 217.16,16.59 217.42,16.79 217.68,16.97 217.94,17.11 218.20,17.23 218.46,17.30 218.72,17.34 218.98,17.33 219.24,17.28 219.50,17.19 219.76,17.06 220.02,16.90 220.28,16.72 220.54,16.51 220.80,16.29 221.06,16.06 221.32,15.82 221.58,15.59 221.84,15.35 222.10,15.11 222.36,14.89 222.62,14.67 222.88,14.46 223.14,14.26 223.40,14.07 223.66,13.90 223.92,13.73 224.18,13.58 224.44,13.44 224.70,13.31 224.96,13.19 225.22,13.08 225.48,12.98 225.74,12.89 226.00,12.81 226.26,12.73 226.52,12.67 226.78,12.61 227.04,12.55 227.30,12.50 227.56,12.46 227.82,12.42 228.08,12.39 228.33,12.35 228.59,12.33 228.85,12.30 229.11,12.28 229.37,12.26 229.63,12.24 229.89,12.22 230.15,12.20 230.41,12.19 230.67,12.18 230.93,12.16 231.19,12.15 231.45,12.14 231.71,12.13 231.97,12.12 232.23,12.12 232.49,12.11 232.75,12.10 233.01,12.09 233.27,12.09 233.53,12.08 233.79,12.08 234.05,12.07 234.31,12.07 234.57,12.06 234.83,12.06 235.09,12.06 235.35,12.05 235.61,12.05 235.87,12.05 236.13,12.05 236.39,12.05 236.65,12.04 236.91,12.04 237.17,12.04 237.43,12.04 237.69,12.04 237.95,12.04 238.21,12.04 238.47,12.04 238.73,12.04 238.99,12.04 239.25,12.04 239.51,12.04 239.77,12.05 240.03,12.05 240.29,12.05 240.55,12.05 240.81,12.05 241.07,12.06 241.33,12.06 241.59,12.06 241.85,12.06 242.11,12.07 242.37,12.07 242.63,12.07 242.89,12.08 243.15,12.08 243.41,12.09 243.67,12.09 243.93,12.10 244.19,12.10 244.45,12.11 244.71,12.11 244.97,12.12 245.23,12.12 245.48,12.13 245.74,12.14 246.00,12.14 246.26,12.15 246.52,12.16 246.78,12.17 247.04,12.18 247.30,12.18 247.56,12.19 247.82,12.20 248.08,12.21 248.34,12.22 248.60,12.23 248.86,12.25 249.12,12.26 249.38,12.27 249.64,12.28 249.90,12.29 250.16,12.31 250.42,12.32 250.68,12.34 250.94,12.35 251.20,12.37 251.46,12.39 251.72,12.41 251.98,12.42 252.24,12.44 252.50,12.46 252.76,12.49 253.02,12.51 253.28,12.53 253.54,12.56 253.80,12.58 254.06,12.61 254.32,12.64 254.58,12.67 254.84,12.70 255.10,12.73 255.36,12.76 255.62,12.80 255.88,12.84 256.14,12.88 256.40,12.92 256.66,12.97 256.92,13.01 257.18,13.07 257.44,13.12 257.70,13.17 257.96,13.23 258.22,13.30 258.48,13.36 258.74,13.44 259.00,13.51 259.26,13.59 259.52,13.68 259.78,13.77 260.04,13.86 260.30,13.97 260.56,14.08 260.82,14.20 261.08,14.32 261.34,14.46 261.60,14.60 261.86,14.76 262.12,14.92 262.38,15.10 262.64,15.29 262.89,15.49 263.15,15.71 263.41,15.94 263.67,16.19 263.93,16.45 264.19,16.73 264.45,17.02 264.71,17.34 264.97,17.66 265.23,18.00 265.49,18.35 265.75,18.71 266.01,19.07 266.27,19.44 266.53,19.80 266.79,20.14 267.05,20.46 267.31,20.76 267.57,21.01 267.83,21.22 268.09,21.37 268.35,21.47 268.61,21.50 268.87,21.46 269.13,21.37 269.39,21.21 269.65,21.00 269.91,20.74 270.17,20.45 270.43,20.13 270.69,19.79 270.95,19.43 271.21,19.07 271.47,18.71 271.73,18.35 271.99,18.01 272.25,17.67 272.51,17.35 272.77,17.04 273.03,16.75 273.29,16.48 273.55,16.22 273.81,15.98 274.07,15.75 274.33,15.54 274.59,15.34 274.85,15.16 275.11,14.98 275.37,14.82 275.63,14.67 275.89,14.53 276.15,14.40 276.41,14.28 276.67,14.16 276.93,14.06 277.19,13.96 277.45,13.86 277.71,13.78 277.97,13.70 278.23,13.62 278.49,13.55 278.75,13.48 279.01,13.42 279.27,13.36 279.53,13.31 279.79,13.26 280.05,13.21 280.30,13.16 280.56,13.12 280.82,13.08 281.08,13.04 281.34,13.01 281.60,12.97 281.86,12.94 282.12,12.91 282.38,12.89 282.64,12.86 282.90,12.84 283.16,12.81 283.42,12.79 283.68,12.77 283.94,12.76 284.20,12.74 284.46,12.72 284.72,12.71 284.98,12.70 285.24,12.68 285.50,12.67 285.76,12.66 286.02,12.65 286.28,12.65 286.54,12.64 286.80,12.63 287.06,12.63 287.32,12.62 287.58,12.62 287.84,12.62 288.10,12.62 288.36,12.61 288.62,12.61 288.88,12.62 289.14,12.62 289.40,12.62 289.66,12.62 289.92,12.63 290.18,12.63 290.44,12.64 290.70,12.65 290.96,12.65 291.22,12.66 291.48,12.67 291.74,12.68 292.00,12.70 292.26,12.71 292.52,12.72 292.78,12.74 293.04,12.76 293.30,12.77 293.56,12.79 293.82,12.82 294.08,12.84 294.34,12.86 294.60,12.89 294.86,12.91 295.12,12.94 295.38,12.97 295.64,13.01 295.90,13.04 296.16,13.08 296.42,13.12 296.68,13.16 296.94,13.21 297.20,13.26 297.45,13.31 297.71,13.36 297.97,13.42 298.23,13.48 298.49,13.55 298.75,13.62 299.01,13.70 299.27,13.78 299.53,13.86 299.79,13.96 300.05,14.06 300.31,14.16 300.57,14.27 300.83,14.40 301.09,14.53 301.35,14.67 301.61,14.82 301.87,14.98 302.13,15.15 302.39,15.33 302.65,15.53 302.91,15.74 303.17,15.97 303.43,16.21 303.69,16.47 303.95,16.74 304.21,17.03 304.47,17.33 304.73,17.65 304.99,17.99 305.25,18.33 305.51,18.69 305.77,19.05 306.03,19.41 306.29,19.77 306.55,20.11 306.81,20.44 307.07,20.73 307.33,20.99 307.59,21.20 307.85,21.37 308.11,21.47 308.37,21.51 308.63,21.48 308.89,21.39 309.15,21.24 309.41,21.04 309.67,20.79 309.93,20.50 310.19,20.18 310.45,19.83 310.71,19.48 310.97,19.11 311.23,18.75 311.49,18.39 311.75,18.04 312.01,17.70 312.27,17.37 312.53,17.06 312.79,16.76 313.05,16.48 313.31,16.22 313.57,15.97 313.83,15.74 314.09,15.52 314.35,15.32 314.61,15.13 314.86,14.95 315.12,14.78 315.38,14.63 315.64,14.48 315.90,14.34 316.16,14.22 316.42,14.10 316.68,13.99 316.94,13.88 317.20,13.79 317.46,13.69 317.72,13.61 317.98,13.53 318.24,13.45 318.50,13.38 318.76,13.31 319.02,13.25 319.28,13.19 319.54,13.13 319.80,13.08 320.06,13.03 320.32,12.98 320.58,12.94 320.84,12.89 321.10,12.85 321.36,12.81 321.62,12.78 321.88,12.74 322.14,12.71 322.40,12.68 322.66,12.65 322.92,12.62 323.18,12.59 323.44,12.57 323.70,12.54 323.96,12.52 324.22,12.50 324.48,12.47 324.74,12.45 325.00,12.43 325.26,12.41 325.52,12.40 325.78,12.38 326.04,12.36 326.30,12.35 326.56,12.33 326.82,12.32 327.08,12.30 327.34,12.29 327.60,12.28 327.86,12.26 328.12,12.25 328.38,12.24 328.64,12.23 328.90,12.22 329.16,12.21 329.42,12.20 329.68,12.19 329.94,12.18 330.20,12.17 330.46,12.16 330.72,12.15 330.98,12.14 331.24,12.14 331.50,12.13 331.76,12.12 332.02,12.12 332.27,12.11 332.53,12.10 332.79,12.10 333.05,12.09 333.31,12.08 333.57,12.08 333.83,12.07 334.09,12.07 334.35,12.06 334.61,12.06 334.87,12.05 335.13,12.05 335.39,12.04 335.65,12.04 335.91,12.04 336.17,12.03 336.43,12.03 336.69,12.03 336.95,12.02 337.21,12.02 337.47,12.02 337.73,12.01 337.99,12.01 338.25,12.01 338.51,12.00 338.77,12.00 339.03,12.00 339.29,12.00 339.55,12.00 339.81,11.99 340.07,11.99 340.33,11.99 340.59,11.99 340.85,11.99 341.11,11.99 341.37,11.98 341.63,11.98 341.89,11.98 342.15,11.98 342.41,11.98 342.67,11.98 342.93,11.98 343.19,11.98 343.45,11.98 343.71,11.98 343.97,11.98 344.23,11.98 344.49,11.98 344.75,11.98 345.01,11.98 345.27,11.98 345.53,11.98 345.79,11.98 346.05,11.99 346.31,11.99 346.57,11.99 346.83,12.00 347.09,12.00 347.35,12.01 347.61,12.01 347.87,12.02 348.13,12.03 348.39,12.04 348.65,12.06 348.91,12.07 349.17,12.09 349.42,12.12 349.68,12.14 349.94,12.17 350.20,12.21 350.46,12.25 350.72,12.29 350.98,12.34 351.24,12.40 351.50,12.46 351.76,12.54 352.02,12.61 352.28,12.70 352.54,12.79 352.80,12.89 353.06,13.00 353.32,13.11 353.58,13.23 353.84,13.35 354.10,13.48 354.36,13.61 354.62,13.74 354.88,13.87 355.14,14.00 355.40,14.13 355.66,14.25 355.92,14.36 356.18,14.46 356.44,14.55 356.70,14.63 356.96,14.69 357.22,14.73 357.48,14.76 357.74,14.77 358.00,14.76 358.26,14.72 358.52,14.68 358.78,14.61 359.04,14.53 359.30,14.44 359.56,14.33 359.82,14.22 360.08,14.10 360.34,13.97 360.60,13.84 360.86,13.71 361.12,13.58 361.38,13.46 361.64,13.33 361.90,13.21 362.16,13.10 362.42,12.99 362.68,12.88 362.94,12.79 363.20,12.70 363.46,12.62 363.72,12.55 363.98,12.48 364.24,12.42 364.50,12.36 364.76,12.32 365.02,12.28 365.28,12.24 365.54,12.21 365.80,12.18 366.06,12.16 366.32,12.14 366.58,12.12 366.83,12.11 367.09,12.09 367.35,12.09 367.61,12.08 367.87,12.07 368.13,12.07 368.39,12.06 368.65,12.06 368.91,12.06 369.17,12.06 369.43,12.05 369.69,12.05 369.95,12.05 370.21,12.05 370.47,12.06 370.73,12.06 370.99,12.06 371.25,12.06 371.51,12.06 371.77,12.06 372.03,12.06 372.29,12.07 372.55,12.07 372.81,12.07 373.07,12.07 373.33,12.08 373.59,12.08 373.85,12.08 374.11,12.08 374.37,12.09 374.63,12.09 374.89,12.09 375.15,12.10 375.41,12.10 375.67,12.10 375.93,12.11 376.19,12.11 376.45,12.12 376.71,12.12 376.97,12.12 377.23,12.13 377.49,12.13 377.75,12.14 378.01,12.14 378.27,12.15 378.53,12.15 378.79,12.16 379.05,12.16 379.31,12.17 379.57,12.17 379.83,12.18 380.09,12.19 380.35,12.19 380.61,12.20 380.87,12.21 381.13,12.21 381.39,12.22 381.65,12.23 381.91,12.23 382.17,12.24 382.43,12.25 382.69,12.25 382.95,12.26 383.21,12.27 383.47,12.28 383.73,12.29 383.98,12.29 384.24,12.30 384.50,12.31 384.76,12.32 385.02,12.33 385.28,12.34 385.54,12.35 385.80,12.36 386.06,12.37 386.32,12.38 386.58,12.39 386.84,12.40 387.10,12.41 387.36,12.43 387.62,12.44 387.88,12.45 388.14,12.46 388.40,12.48 388.66,12.49 388.92,12.50 389.18,12.52 389.44,12.53 389.70,12.55 389.96,12.56 390.22,12.58 390.48,12.59 390.74,12.61 391.00,12.63 391.26,12.65 391.52,12.66 391.78,12.68 392.04,12.70 392.30,12.72 392.56,12.74 392.82,12.76 393.08,12.78 393.34,12.80 393.60,12.83 393.86,12.85 394.12,12.87 394.38,12.90 394.64,12.93 394.90,12.95 395.16,12.98 395.42,13.01 395.68,13.04 395.94,13.07 396.20,13.10 396.46,13.13 396.72,13.16 396.98,13.20 397.24,13.23 397.50,13.27 397.76,13.31 398.02,13.35 398.28,13.39 398.54,13.43 398.80,13.47 399.06,13.52 399.32,13.57 399.58,13.62 399.84,13.67 400.10,13.72 400.36,13.78 400.62,13.83 400.88,13.89 401.14,13.95 401.39,14.02 401.65,14.09 401.91,14.16 402.17,14.23 402.43,14.31 402.69,14.39 402.95,14.47 403.21,14.56 403.47,14.65 403.73,14.75 403.99,14.85 404.25,14.95 404.51,15.06 404.77,15.18 405.03,15.30 405.29,15.43 405.55,15.57 405.81,15.71 406.07,15.86 406.33,16.02 406.59,16.18 406.85,16.36 407.11,16.55 407.37,16.74 407.63,16.95 407.89,17.17 408.15,17.41 408.41,17.66 408.67,17.93 408.93,18.21 409.19,18.51 409.45,18.83 409.71,19.18 409.97,19.55 410.23,19.94 410.49,20.36 410.75,20.82 411.01,21.30 411.27,21.83 411.53,22.39 411.79,23.00 412.05,23.66 412.31,24.37 412.57,25.13 412.83,25.96 413.09,26.86 413.35,27.83 413.61,28.89 413.87,30.03 414.13,31.27 414.39,32.62 414.65,34.07 414.91,35.64 415.17,37.34 415.43,39.16 415.69,41.11 415.95,43.18 416.21,45.38 416.47,47.67 416.73,50.05 416.99,52.47 417.25,54.90 417.51,57.28 417.77,59.53 418.03,61.59 418.29,63.36 418.55,64.78 418.80,65.77 419.06,66.29 419.32,66.29 419.58,65.79 419.84,64.80 420.10,63.39 420.36,61.62 420.62,59.57 420.88,57.32 421.14,54.95 421.40,52.52 421.66,50.09 421.92,47.71 422.18,45.42 422.44,43.22 422.70,41.14 422.96,39.19 423.22,37.37 423.48,35.67 423.74,34.10 424.00,32.64 424.26,31.29 424.52,30.05 424.78,28.90 425.04,27.85 425.30,26.87 425.56,25.97 425.82,25.14 426.08,24.37 426.34,23.66 426.60,23.01 426.86,22.40 427.12,21.83 427.38,21.31 427.64,20.82 427.90,20.36 428.16,19.94 428.42,19.54 428.68,19.18 428.94,18.83 429.20,18.51 429.46,18.20 429.72,17.92 429.98,17.65 430.24,17.40 430.50,17.17 430.76,16.94 431.02,16.73 431.28,16.54 431.54,16.35 431.80,16.17 432.06,16.01 432.32,15.85 432.58,15.70 432.84,15.55 433.10,15.42 433.36,15.29 433.62,15.17 433.88,15.05 434.14,14.94 434.40,14.83 434.66,14.73 434.92,14.64 435.18,14.54 435.44,14.46 435.70,14.37 435.95,14.29 436.21,14.21 436.47,14.14 436.73,14.07 436.99,14.00 437.25,13.94 437.51,13.87 437.77,13.81 438.03,13.76 438.29,13.70 438.55,13.65 438.81,13.60 439.07,13.55 439.33,13.50 439.59,13.45 439.85,13.41 440.11,13.37 440.37,13.32 440.63,13.28 440.89,13.25 441.15,13.21 441.41,13.17 441.67,13.14 441.93,13.10 442.19,13.07 442.45,13.04 442.71,13.01 442.97,12.98 443.23,12.95 443.49,12.92 443.75,12.90 444.01,12.87 444.27,12.85 444.53,12.82 444.79,12.80 445.05,12.77 445.31,12.75 445.57,12.73 445.83,12.71 446.09,12.69 446.35,12.67 446.61,12.65 446.87,12.63 447.13,12.61 447.39,12.59 447.65,12.58 447.91,12.56 448.17,12.54 448.43,12.53 448.69,12.51 448.95,12.50 449.21,12.48 449.47,12.47 449.73,12.45 449.99,12.44 450.25,12.42 450.51,12.41 450.77,12.40 451.03,12.39 451.29,12.37 451.55,12.36 451.81,12.35 452.07,12.34 452.33,12.33 452.59,12.32 452.85,12.31 453.11,12.30 453.36,12.29 453.62,12.28 453.88,12.27 454.14,12.26 454.40,12.25 454.66,12.24 454.92,12.23 455.18,12.22 455.44,12.21 455.70,12.20 455.96,12.19 456.22,12.19 456.48,12.18 456.74,12.17 457.00,12.16 457.26,12.16 457.52,12.15 457.78,12.14 458.04,12.14 458.30,12.13 458.56,12.12 458.82,12.11 459.08,12.11 459.34,12.10 459.60,12.10 459.86,12.09 460.12,12.08 460.38,12.08 460.64,12.07 460.90,12.07 461.16,12.06 461.42,12.06 461.68,12.05 461.94,12.04 462.20,12.04 462.46,12.03 462.72,12.03 462.98,12.02 463.24,12.02 463.50,12.02 463.76,12.01 464.02,12.01 464.28,12.00 464.54,12.00 464.80,11.99 465.06,11.99 465.32,11.98 465.58,11.98 465.84,11.98 466.10,11.97 466.36,11.97 466.62,11.96 466.88,11.96 467.14,11.96 467.40,11.95 467.66,11.95 467.92,11.95 468.18,11.94 468.44,11.94 468.70,11.94 468.96,11.93 469.22,11.93 469.48,11.93 469.74,11.92 470.00,11.92 470.26,11.92 470.52,11.91 470.77,11.91 471.03,11.91 471.29,11.90 471.55,11.90 471.81,11.90 472.07,11.90 472.33,11.89 472.59,11.89 472.85,11.89 473.11,11.88 473.37,11.88 473.63,11.88 473.89,11.88 474.15,11.87 474.41,11.87 474.67,11.87 474.93,11.87 475.19,11.86 475.45,11.86 475.71,11.86 475.97,11.86 476.23,11.86 476.49,11.85 476.75,11.85 477.01,11.85 477.27,11.85 477.53,11.85 477.79,11.84 478.05,11.84 478.31,11.84 478.57,11.84 478.83,11.83 479.09,11.83 479.35,11.83 479.61,11.83 479.87,11.83 480.13,11.83 480.39,11.82 480.65,11.82 480.91,11.82 481.17,11.82 481.43,11.82 481.69,11.81 481.95,11.81 482.21,11.81 482.47,11.81 482.73,11.81 482.99,11.81 483.25,11.81 483.51,11.80 483.77,11.80 484.03,11.80 484.29,11.80 484.55,11.80 484.81,11.80 485.07,11.79 485.33,11.79 485.59,11.79 485.85,11.79 486.11,11.79 486.37,11.79 486.63,11.79 486.89,11.78 487.15,11.78 487.41,11.78 487.67,11.78 487.92,11.78 488.18,11.78 488.44,11.78 488.70,11.78 488.96,11.77 489.22,11.77 489.48,11.77 489.74,11.77 490.00,11.77 490.26,11.77 490.52,11.77 490.78,11.77 491.04,11.76 491.30,11.76 491.56,11.76 491.82,11.76 492.08,11.76 492.34,11.76 492.60,11.76 492.86,11.76 493.12,11.76 493.38,11.76 493.64,11.75 493.90,11.75 494.16,11.75 494.42,11.75 494.68,11.75 494.94,11.75 495.20,11.75 495.46,11.75 495.72,11.75 495.98,11.75 496.24,11.74 496.50,11.74"/>
<polyline stroke="#00ff00" points="81.00,11.32 81.26,11.32 81.52,11.33 81.78,11.33 82.04,11.33 82.30,11.33 82.56,11.33 82.82,11.34 83.08,11.34 83.34,11.34 83.60,11.34 83.86,11.34 84.12,11.35 84.38,11.35 84.64,11.35 84.90,11.35 85.16,11.36 85.42,11.36 85.68,11.36 85.94,11.36 86.20,11.36 86.46,11.37 86.72,11.37 86.98,11.37 87.24,11.37 87.50,11.38 87.76,11.38 88.02,11.38 88.28,11.38 88.54,11.38 88.80,11.39 89.06,11.39 89.32,11.39 89.58,11.39 89.83,11.40 90.09,11.40 90.35,11.40 90.61,11.40 90.87,11.41 91.13,11.41 91.39,11.41 91.65,11.42 91.91,11.42 92.17,11.42 92.43,11.42 92.69,11.43 92.95,11.43 93.21,11.43 93.47,11.43 93.73,11.44 93.99,11.44 94.25,11.44 94.51,11.45 94.77,11.45 95.03,11.45 95.29,11.45 95.55,11.46 95.81,11.46 96.07,11.46 96.33,11.47 96.59,11.47 96.85,11.47 97.11,11.48 97.37,11.48 97.63,11.48 97.89,11.49 98.15,11.49 98.41,11.49 98.67,11.50 98.93,11.50 99.19,11.50 99.45,11.51 99.71,11.51 99.97,11.51 100.23,11.52 100.49,11.52 100.75,11.52 101.01,11.53 101.27,11.53 101.53,11.53 101.79,11.54 102.05,11.54 102.31,11.55 102.57,11.55 102.83,11.55 103.09,11.56 103.35,11.56 103.61,11.57 103.87,11.57 104.13,11.57 104.39,11.58 104.65,11.58 104.91,11.59 105.17,11.59 105.43,11.59 105.69,11.60 105.95,11.60 106.21,11.61 106.47,11.61 106.73,11.62 106.98,11.62 107.24,11.63 107.50,11.63 107.76,11.63 108.02,11.64 108.28,11.64 108.54,11.65 108.80,11.65 109.06,11.66 109.32,11.66 109.58,11.67 109.84,11.67 110.10,11.68 110.36,11.68 110.62,11.69 110.88,11.69 111.14,11.70 111.40,11.71 111.66,11.71 111.92,11.72 112.18,11.72 112.44,11.73 112.70,11.73 112.96,11.74 113.22,11.75 113.48,11.75 113.74,11.76 114.00,11.76 114.26,11.77 114.52,11.78 114.78,11.78 115.04,11.79 115.30,11.79 115.56,11.80 115.82,11.81 116.08,11.81 116.34,11.82 116.60,11.83 116.86,11.83 117.12,11.84 117.38,11.85 117.64,11.86 117.90,11.86 118.16,11.87 118.42,11.88 118.68,11.89 118.94,11.89 119.20,11.90 119.46,11.91 119.72,11.92 119.98,11.92 120.24,11.93 120.50,11.94 120.76,11.95 121.02,11.96 121.28,11.97 121.54,11.97 121.80,11.98 122.06,11.99 122.32,12.00 122.58,12.01 122.84,12.02 123.10,12.03 123.36,12.04 123.62,12.05 123.88,12.06 124.14,12.07 124.39,12.08 124.65,12.09 124.91,12.10 125.17,12.11 125.43,12.12 125.69,12.13 125.95,12.14 126.21,12.15 126.47,12.16 126.73,12.17 126.99,12.19 127.25,12.20 127.51,12.21 127.77,12.22 128.03,12.23 128.29,12.24 128.55,12.26 128.81,12.27 129.07,12.28 129.33,12.30 129.59,12.31 129.85,12.32 130.11,12.34 130.37,12.35 130.63,12.36 130.89,12.38 131.15,12.39 131.41,12.41 131.67,12.42 131.93,12.44 132.19,12.45 132.45,12.47 132.71,12.49 132.97,12.50 133.23,12.52 133.49,12.54 133.75,12.55 134.01,12.57 134.27,12.59 134.53,12.61 134.79,12.62 135.05,12.64 135.31,12.66 135.57,12.68 135.83,12.70 136.09,12.72 136.35,12.74 136.61,12.76 136.87,12.78 137.13,12.80 137.39,12.83 137.65,12.85 137.91,12.87 138.17,12.89 138.43,12.92 138.69,12.94 138.95,12.97 139.21,12.99 139.47,13.02 139.73,13.04 139.99,13.07 140.25,13.09 140.51,13.12 140.77,13.15 141.03,13.18 141.29,13.21 141.55,13.24 141.80,13.27 142.06,13.30 142.32,13.33 142.58,13.36 142.84,13.39 143.10,13.43 143.36,13.46 143.62,13.50 143.88,13.53 144.14,13.57 144.40,13.60 144.66,13.64 144.92,13.68 145.18,13.72 145.44,13.76 145.70,13.80 145.96,13.85 146.22,13.89 146.48,13.93 146.74,13.98 147.00,14.03 147.26,14.07 147.52,14.12 147.78,14.17 148.04,14.22 148.30,14.27 148.56,14.33 148.82,14.38 149.08,14.44 149.34,14.50 149.60,14.56 149.86,14.62 150.12,14.68 150.38,14.74 150.64,14.81 150.90,14.88 151.16,14.95 151.42,15.02 151.68,15.09 151.94,15.17 152.20,15.24 152.46,15.32 152.72,15.40 152.98,15.49 153.24,15.57 153.50,15.66 153.76,15.75 154.02,15.85 154.28,15.95 154.54,16.05 154.80,16.15 155.06,16.26 155.32,16.36 155.58,16.48 155.84,16.59 156.10,16.71 156.36,16.84 156.62,16.97 156.88,17.10 157.14,17.24 157.40,17.38 157.66,17.53 157.92,17.68 158.18,17.83 158.44,18.00 158.70,18.16 158.95,18.34 159.21,18.52 159.47,18.71 159.73,18.90 159.99,19.10 160.25,19.31 160.51,19.53 160.77,19.75 161.03,19.99 161.29,20.23 161.55,20.48 161.81,20.75 162.07,21.02 162.33,21.31 162.59,21.61 162.85,21.92 163.11,22.24 163.37,22.58 163.63,22.93 163.89,23.30 164.15,23.69 164.41,24.09 164.67,24.51 164.93,24.96 165.19,25.42 165.45,25.90 165.71,26.41 165.97,26.94 166.23,27.50 166.49,28.09 166.75,28.70 167.01,29.35 167.27,30.03 167.53,30.75 167.79,31.50 168.05,32.29 168.31,33.13 168.57,34.01 168.83,34.93 169.09,35.91 169.35,36.94 169.61,38.02 169.87,39.16 170.13,40.37 170.39,41.64 170.65,42.98 170.91,44.39 171.17,45.88 171.43,47.44 171.69,49.09 171.95,50.81 172.21,52.63 172.47,54.53 172.73,56.51 172.99,58.58 173.25,60.74 173.51,62.97 173.77,65.28 174.03,67.65 174.29,70.08 174.55,72.54 174.81,75.04 175.07,77.54 175.33,80.01 175.59,82.45 175.85,84.80 176.11,87.05 176.36,89.14 176.62,91.06 176.88,92.76 177.14,94.21 177.40,95.38 177.66,96.24 177.92,96.78 178.18,96.97 178.44,96.82 178.70,96.33 178.96,95.50 179.22,94.37 179.48,92.96 179.74,91.29 180.00,89.40 180.26,87.32 180.52,85.10 180.78,82.76 181.04,80.35 181.30,77.88 181.56,75.39 181.82,72.91 182.08,70.44 182.34,68.02 182.60,65.65 182.86,63.35 183.12,61.12 183.38,58.96 183.64,56.90 183.90,54.91 184.16,53.01 184.42,51.20 184.68,49.48 184.94,47.83 185.20,46.27 185.46,44.79 185.72,43.38 185.98,42.04 186.24,40.78 186.50,39.58 186.76,38.44 187.02,37.36 187.28,36.34 187.54,35.37 187.80,34.45 188.06,33.57 188.32,32.75 188.58,31.96 188.84,31.22 189.10,30.51 189.36,29.84 189.62,29.20 189.88,28.59 190.14,28.01 190.40,27.47 190.66,26.94 190.92,26.45 191.18,25.97 191.44,25.52 191.70,25.09 191.96,24.68 192.22,24.29 192.48,23.91 192.74,23.56 193.00,23.22 193.26,22.89 193.52,22.58 193.77,22.28 194.03,22.00 194.29,21.73 194.55,21.47 194.81,21.22 195.07,20.98 195.33,20.75 195.59,20.53 195.85,20.32 196.11,20.12 196.37,19.93 196.63,19.75 196.89,19.57 197.15,19.40 197.41,19.24 197.67,19.09 197.93,18.94 198.19,18.80 198.45,18.66 198.71,18.53 198.97,18.41 199.23,18.29 199.49,18.17 199.75,18.06 200.01,17.96 200.27,17.86 200.53,17.77 200.79,17.68 201.05,17.59 201.31,17.51 201.57,17.43 201.83,17.36 202.09,17.29 202.35,17.22 202.61,17.16 202.87,17.10 203.13,17.05 203.39,17.00 203.65,16.95 203.91,16.91 204.17,16.87 204.43,16.83 204.69,16.80 204.95,16.77 205.21,16.74 205.47,16.72 205.73,16.70 205.99,16.68 206.25,16.67 206.51,16.66 206.77,16.65 207.03,16.65 207.29,16.65 207.55,16.66 207.81,16.67 208.07,16.68 208.33,16.70 208.59,16.72 208.85,16.75 209.11,16.78 209.37,16.82 209.63,16.86 209.89,16.90 210.15,16.96 210.41,17.01 210.67,17.08 210.92,17.15 211.18,17.22 211.44,17.31 211.70,17.40 211.96,17.50 212.22,17.61 212.48,17.73 212.74,17.86 213.00,18.00 213.26,18.16 213.52,18.33 213.78,18.51 214.04,18.72 214.30,18.94 214.56,19.18 214.82,19.44 215.08,19.73 215.34,20.05 215.60,20.39 215.86,20.77 216.12,21.18 216.38,21.63 216.64,22.13 216.90,22.66 217.16,23.25 217.42,23.89 217.68,24.59 217.94,25.34 218.20,26.16 218.46,27.04 218.72,28.00 218.98,29.02 219.24,30.12 219.50,31.30 219.76,32.56 220.02,33.89 220.28,35.31 220.54,36.79 220.80,38.35 221.06,39.97 221.32,41.64 221.58,43.35 221.84,45.08 222.10,46.81 222.36,48.51 222.62,50.16 222.88,51.70 223.14,53.11 223.40,54.35 223.66,55.37 223.92,56.14 224.18,56.62 224.44,56.81 224.70,56.69 224.96,56.26 225.22,55.55 225.48,54.58 225.74,53.38 226.00,52.00 226.26,50.47 226.52,48.83 226.78,47.13 227.04,45.39 227.30,43.64 227.56,41.91 227.82,40.22 228.08,38.57 228.33,36.98 228.59,35.46 228.85,34.02 229.11,32.65 229.37,31.36 229.63,30.15 229.89,29.01 230.15,27.95 230.41,26.96 230.67,26.05 230.93,25.20 231.19,24.41 231.45,23.69 231.71,23.02 231.97,22.40 232.23,21.84 232.49,21.32 232.75,20.84 233.01,20.40 233.27,20.00 233.53,19.63 233.79,19.29 234.05,18.97 234.31,18.69 234.57,18.42 234.83,18.18 235.09,17.95 235.35,17.74 235.61,17.55 235.87,17.37 236.13,17.21 236.39,17.05 236.65,16.91 236.91,16.78 237.17,16.65 237.43,16.54 237.69,16.43 237.95,16.33 238.21,16.23 238.47,16.14 238.73,16.06 238.99,15.98 239.25,15.91 239.51,15.84 239.77,15.78 240.03,15.72 240.29,15.66 240.55,15.61 240.81,15.57 241.07,15.52 241.33,15.48 241.59,15.44 241.85,15.41 242.11,15.38 242.37,15.35 242.63,15.32 242.89,15.30 243.15,15.28 243.41,15.26 243.67,15.25 243.93,15.24 244.19,15.22 244.45,15.22 244.71,15.21 244.97,15.21 245.23,15.21 245.48,15.21 245.74,15.21 246.00,15.22 246.26,15.22 246.52,15.23 246.78,15.25 247.04,15.26 247.30,15.28 247.56,15.30 247.82,15.32 248.08,15.34 248.34,15.37 248.60,15.40 248.86,15.43 249.12,15.46 249.38,15.49 249.64,15.53 249.90,15.57 250.16,15.62 250.42,15.66 250.68,15.71 250.94,15.76 251.20,15.82 251.46,15.87 251.72,15.93 251.98,16.00 252.24,16.07 252.50,16.14 252.76,16.21 253.02,16.29 253.28,16.37 253.54,16.46 253.80,16.55 254.06,16.64 254.32,16.74 254.58,16.84 254.84,16.95 255.10,17.07 255.36,17.19 255.62,17.31 255.88,17.44 256.14,17.58 256.40,17.72 256.66,17.87 256.92,18.03 257.18,18.20 257.44,18.37 257.70,18.55 257.96,18.75 258.22,18.95 258.48,19.16 258.74,19.38 259.00,19.61 259.26,19.85 259.52,20.11 259.78,20.38 260.04,20.66 260.30,20.95 260.56,21.26 260.82,21.59 261.08,21.93 261.34,22.29 261.60,22.67 261.86,23.07 262.12,23.49 262.38,23.93 262.64,24.39 262.89,24.87 263.15,25.38 263.41,25.92 263.67,26.47 263.93,27.06 264.19,27.67 264.45,28.31 264.71,28.97 264.97,29.66 265.23,30.38 265.49,31.12 265.75,31.89 266.01,32.68 266.27,33.48 266.53,34.31 266.79,35.14 267.05,35.99 267.31,36.83 267.57,37.67 267.83,38.50 268.09,39.31 268.35,40.08 268.61,40.81 268.87,41.50 269.13,42.12 269.39,42.67 269.65,43.15 269.91,43.53 270.17,43.82 270.43,44.00 270.69,44.09 270.95,44.06 271.21,43.93 271.47,43.70 271.73,43.37 271.99,42.94 272.25,42.44 272.51,41.86 272.77,41.21 273.03,40.51 273.29,39.77 273.55,38.99 273.81,38.19 274.07,37.37 274.33,36.54 274.59,35.71 274.85,34.89 275.11,34.07 275.37,33.27 275.63,32.50 275.89,31.74 276.15,31.00 276.41,30.29 276.67,29.61 276.93,28.95 277.19,28.32 277.45,27.72 277.71,27.14 277.97,26.59 278.23,26.07 278.49,25.57 278.75,25.10 279.01,24.65 279.27,24.22 279.53,23.81 279.79,23.43 280.05,23.06 280.30,22.72 280.56,22.39 280.82,22.08 281.08,21.78 281.34,21.51 281.60,21.24 281.86,20.99 282.12,20.76 282.38,20.53 282.64,20.32 282.90,20.12 283.16,19.94 283.42,19.76 283.68,19.59 283.94,19.44 284.20,19.29 284.46,19.15 284.72,19.02 284.98,18.90 285.24,18.79 285.50,18.68 285.76,18.58 286.02,18.49 286.28,18.41 286.54,18.33 286.80,18.26 287.06,18.19 287.32,18.13 287.58,18.08 287.84,18.04 288.10,17.99 288.36,17.96 288.62,17.93 288.88,17.91 289.14,17.89 289.40,17.88 289.66,17.87 289.92,17.87 290.18,17.88 290.44,17.89 290.70,17.91 290.96,17.93 291.22,17.96 291.48,18.00 291.74,18.04 292.00,18.09 292.26,18.15 292.52,18.21 292.78,18.29 293.04,18.37 293.30,18.45 293.56,18.55 293.82,18.65 294.08,18.76 294.34,18.88 294.60,19.02 294.86,19.16 295.12,19.31 295.38,19.47 295.64,19.64 295.90,19.82 296.16,20.02 296.42,20.23 296.68,20.45 296.94,20.68 297.20,20.93 297.45,21.19 297.71,21.47 297.97,21.76 298.23,22.07 298.49,22.39 298.75,22.73 299.01,23.08 299.27,23.45 299.53,23.84 299.79,24.25 300.05,24.67 300.31,25.12 300.57,25.58 300.83,26.06 301.09,26.56 301.35,27.07 301.61,27.61 301.87,28.17 302.13,28.74 302.39,29.33 302.65,29.95 302.91,30.58 303.17,31.22 303.43,31.89 303.69,32.57 303.95,33.26 304.21,33.97 304.47,34.69 304.73,35.42 304.99,36.17 305.25,36.92 305.51,37.67 305.77,38.43 306.03,39.19 306.29,39.94 306.55,40.69 306.81,41.43 307.07,42.16 307.33,42.87 307.59,43.55 307.85,44.21 308.11,44.84 308.37,45.43 308.63,45.98 308.89,46.48 309.15,46.93 309.41,47.33 309.67,47.67 309.93,47.94 310.19,48.15 310.45,48.30 310.71,48.37 310.97,48.37 311.23,48.30 311.49,48.16 311.75,47.96 312.01,47.68 312.27,47.35 312.53,46.95 312.79,46.50 313.05,46.00 313.31,45.45 313.57,44.85 313.83,44.22 314.09,43.56 314.35,42.87 314.61,42.15 314.86,41.42 315.12,40.67 315.38,39.91 315.64,39.14 315.90,38.38 316.16,37.61 316.42,36.84 316.68,36.07 316.94,35.32 317.20,34.57 317.46,33.84 317.72,33.11 317.98,32.40 318.24,31.71 318.50,31.03 318.76,30.36 319.02,29.72 319.28,29.09 319.54,28.48 319.80,27.89 320.06,27.31 320.32,26.76 320.58,26.22 320.84,25.70 321.10,25.20 321.36,24.72 321.62,24.26 321.88,23.82 322.14,23.39 322.40,22.98 322.66,22.59 322.92,22.21 323.18,21.85 323.44,21.51 323.70,21.18 323.96,20.87 324.22,20.57 324.48,20.28 324.74,20.01 325.00,19.76 325.26,19.51 325.52,19.28 325.78,19.06 326.04,18.85 326.30,18.65 326.56,18.46 326.82,18.28 327.08,18.11 327.34,17.95 327.60,17.80 327.86,17.66 328.12,17.52 328.38,17.40 328.64,17.28 328.90,17.16 329.16,17.06 329.42,16.96 329.68,16.87 329.94,16.78 330.20,16.69 330.46,16.62 330.72,16.55 330.98,16.48 331.24,16.42 331.50,16.36 331.76,16.30 332.02,16.25 332.27,16.21 332.53,16.17 332.79,16.13 333.05,16.09 333.31,16.06 333.57,16.04 333.83,16.01 334.09,15.99 334.35,15.97 334.61,15.96 334.87,15.95 335.13,15.94 335.39,15.94 335.65,15.94 335.91,15.94 336.17,15.95 336.43,15.96 336.69,15.97 336.95,15.98 337.21,16.00 337.47,16.03 337.73,16.05 337.99,16.08 338.25,16.12 338.51,16.15 338.77,16.20 339.03,16.24 339.29,16.29 339.55,16.35 339.81,16.41 340.07,16.47 340.33,16.54 340.59,16.62 340.85,16.70 341.11,16.78 341.37,16.88 341.63,16.98 341.89,17.08 342.15,17.20 342.41,17.32 342.67,17.45 342.93,17.59 343.19,17.74 343.45,17.90 343.71,18.07 343.97,18.25 344.23,18.44 344.49,18.65 344.75,18.87 345.01,19.10 345.27,19.36 345.53,19.63 345.79,19.92 346.05,20.22 346.31,20.56 346.57,20.91 346.83,21.29 347.09,21.70 347.35,22.14 347.61,22.62 347.87,23.13 348.13,23.68 348.39,24.27 348.65,24.90 348.91,25.59 349.17,26.33 349.42,27.13 349.68,27.99 349.94,28.92 350.20,29.92 350.46,31.00 350.72,32.16 350.98,33.41 351.24,34.74 351.50,36.17 351.76,37.68 352.02,39.28 352.28,40.97 352.54,42.73 352.80,44.54 353.06,46.39 353.32,48.25 353.58,50.08 353.84,51.84 354.10,53.48 354.36,54.94 354.62,56.19 354.88,57.16 355.14,57.82 355.40,58.13 355.66,58.09 355.92,57.68 356.18,56.94 356.44,55.89 356.70,54.58 356.96,53.06 357.22,51.38 357.48,49.59 357.74,47.75 358.00,45.89 358.26,44.04 358.52,42.23 358.78,40.48 359.04,38.81 359.30,37.22 359.56,35.72 359.82,34.31 360.08,33.00 360.34,31.77 360.60,30.62 360.86,29.55 361.12,28.57 361.38,27.65 361.64,26.80 361.90,26.01 362.16,25.27 362.42,24.59 362.68,23.96 362.94,23.37 363.20,22.83 363.46,22.32 363.72,21.85 363.98,21.41 364.24,21.00 364.50,20.62 364.76,20.26 365.02,19.93 365.28,19.62 365.54,19.33 365.80,19.05 366.06,18.80 366.32,18.56 366.58,18.33 366.83,18.12 367.09,17.93 367.35,17.74 367.61,17.57 367.87,17.40 368.13,17.25 368.39,17.10 368.65,16.96 368.91,16.84 369.17,16.71 369.43,16.60 369.69,16.49 369.95,16.39 370.21,16.30 370.47,16.21 370.73,16.12 370.99,16.05 371.25,15.97 371.51,15.90 371.77,15.84 372.03,15.78 372.29,15.72 372.55,15.67 372.81,15.62 373.07,15.57 373.33,15.53 373.59,15.49 373.85,15.46 374.11,15.43 374.37,15.40 374.63,15.37 374.89,15.35 375.15,15.32 375.41,15.31 375.67,15.29 375.93,15.28 376.19,15.27 376.45,15.26 376.71,15.25 376.97,15.25 377.23,15.25 377.49,15.25 377.75,15.25 378.01,15.26 378.27,15.27 378.53,15.28 378.79,15.29 379.05,15.31 379.31,15.32 379.57,15.34 379.83,15.37 380.09,15.39 380.35,15.42 380.61,15.45 380.87,15.48 381.13,15.52 381.39,15.55 381.65,15.59 381.91,15.64 382.17,15.68 382.43,15.73 382.69,15.78 382.95,15.84 383.21,15.90 383.47,15.96 383.73,16.02 383.98,16.09 384.24,16.17 384.50,16.24 384.76,16.32 385.02,16.41 385.28,16.50 385.54,16.60 385.80,16.70 386.06,16.81 386.32,16.92 386.58,17.04 386.84,17.17 387.10,17.31 387.36,17.45 387.62,17.61 387.88,17.77 388.14,17.95 388.40,18.14 388.66,18.34 388.92,18.56 389.18,18.79 389.44,19.04 389.70,19.30 389.96,19.59 390.22,19.90 390.48,20.23 390.74,20.59 391.00,20.97 391.26,21.38 391.52,21.83 391.78,22.31 392.04,22.82 392.30,23.37 392.56,23.97 392.82,24.61 393.08,25.29 393.34,26.03 393.60,26.82 393.86,27.66 394.12,28.56 394.38,29.52 394.64,30.55 394.90,31.64 395.16,32.79 395.42,34.02 395.68,35.32 395.94,36.69 396.20,38.14 396.46,39.66 396.72,41.25 396.98,42.93 397.24,44.68 397.50,46.50 397.76,48.40 398.02,50.37 398.28,52.40 398.54,54.51 398.80,56.67 399.06,58.89 399.32,61.15 399.58,63.46 399.84,65.80 400.10,68.17 400.36,70.55 400.62,72.92 400.88,75.28 401.14,77.62 401.39,79.90 401.65,82.12 401.91,84.25 402.17,86.27 402.43,88.16 402.69,89.90 402.95,91.46 403.21,92.83 403.47,93.99 403.73,94.91 403.99,95.58 404.25,96.00 404.51,96.15 404.77,96.03 405.03,95.64 405.29,94.99 405.55,94.10 405.81,92.97 406.07,91.62 406.33,90.07 406.59,88.34 406.85,86.46 407.11,84.45 407.37,82.32 407.63,80.11 407.89,77.82 408.15,75.49 408.41,73.12 408.67,70.74 408.93,68.35 409.19,65.97 409.45,63.61 409.71,61.29 409.97,59.01 410.23,56.77 410.49,54.59 410.75,52.47 411.01,50.41 411.27,48.42 411.53,46.50 411.79,44.66 412.05,42.89 412.31,41.19 412.57,39.57 412.83,38.03 413.09,36.56 413.35,35.17 413.61,33.85 413.87,32.60 414.13,31.42 414.39,30.31 414.65,29.27 414.91,28.29 415.17,27.37 415.43,26.50 415.69,25.70 415.95,24.94 416.21,24.24 416.47,23.58 416.73,22.96 416.99,22.39 417.25,21.86 417.51,21.36 417.77,20.90 418.03,20.47 418.29,20.07 418.55,19.69 418.80,19.34 419.06,19.02 419.32,18.71 419.58,18.43 419.84,18.16 420.10,17.92 420.36,17.68 420.62,17.46 420.88,17.26 421.14,17.06 421.40,16.88 421.66,16.71 421.92,16.54 422.18,16.39 422.44,16.24 422.70,16.10 422.96,15.97 423.22,15.84 423.48,15.72 423.74,15.60 424.00,15.49 424.26,15.38 424.52,15.28 424.78,15.18 425.04,15.09 425.30,15.00 425.56,14.91 425.82,14.82 426.08,14.74 426.34,14.66 426.60,14.59 426.86,14.51 427.12,14.44 427.38,14.37 427.64,14.31 427.90,14.24 428.16,14.18 428.42,14.12 428.68,14.06 428.94,14.00 429.20,13.94 429.46,13.89 429.72,13.84 429.98,13.79 430.24,13.74 430.50,13.69 430.76,13.64 431.02,13.59 431.28,13.55 431.54,13.51 431.80,13.46 432.06,13.42 432.32,13.38 432.58,13.34 432.84,13.30 433.10,13.27 433.36,13.23 433.62,13.19 433.88,13.16 434.14,13.13 434.40,13.09 434.66,13.06 434.92,13.03 435.18,13.00 435.44,12.97 435.70,12.94 435.95,12.91 436.21,12.88 436.47,12.85 436.73,12.83 436.99,12.80 437.25,12.78 437.51,12.75 437.77,12.73 438.03,12.70 438.29,12.68 438.55,12.66 438.81,12.63 439.07,12.61 439.33,12.59 439.59,12.57 439.85,12.55 440.11,12.53 440.37,12.51 440.63,12.49 440.89,12.47 441.15,12.45 441.41,12.43 441.67,12.41 441.93,12.40 442.19,12.38 442.45,12.36 442.71,12.34 442.97,12.33 443.23,12.31 443.49,12.30 443.75,12.28 444.01,12.27 444.27,12.25 444.53,12.24 444.79,12.22 445.05,12.21 445.31,12.19 445.57,12.18 445.83,12.17 446.09,12.15 446.35,12.14 446.61,12.13 446.87,12.11 447.13,12.10 447.39,12.09 447.65,12.08 447.91,12.07 448.17,12.06 448.43,12.04 448.69,12.03 448.95,12.02 449.21,12.01 449.47,12.00 449.73,11.99 449.99,11.98 450.25,11.97 450.51,11.96 450.77,11.95 451.03,11.94 451.29,11.93 451.55,11.92 451.81,11.91 452.07,11.90 452.33,11.89 452.59,11.88 452.85,11.88 453.11,11.87 453.36,11.86 453.62,11.85 453.88,11.84 454.14,11.83 454.40,11.83 454.66,11.82 454.92,11.81 455.18,11.80 455.44,11.80 455.70,11.79 455.96,11.78 456.22,11.77 456.48,11.77 456.74,11.76 457.00,11.75 457.26,11.75 457.52,11.74 457.78,11.73 458.04,11.73 458.30,11.72 458.56,11.71 458.82,11.71 459.08,11.70 459.34,11.69 459.60,11.69 459.86,11.68 460.12,11.68 460.38,11.67 460.64,11.66 460.90,11.66 461.16,11.65 461.42,11.65 461.68,11.64 461.94,11.64 462.20,11.63 462.46,11.63 462.72,11.62 462.98,11.62 463.24,11.61 463.50,11.61 463.76,11.60 464.02,11.60 464.28,11.59 464.54,11.59 464.80,11.58 465.06,11.58 465.32,11.57 465.58,11.57 465.84,11.56 466.10,11.56 466.36,11.55 466.62,11.55 466.88,11.54 467.14,11.54 467.40,11.54 467.66,11.53 467.92,11.53 468.18,11.52 468.44,11.52 468.70,11.52 468.96,11.51 469.22,11.51 469.48,11.50 469.74,11.50 470.00,11.50 470.26,11.49 470.52,11.49 470.77,11.49 471.03,11.48 471.29,11.48 471.55,11.47 471.81,11.47 472.07,11.47 472.33,11.46 472.59,11.46 472.85,11.46 473.11,11.45 473.37,11.45 473.63,11.45 473.89,11.44 474.15,11.44 474.41,11.44 474.67,11.43 474.93,11.43 475.19,11.43 475.45,11.42 475.71,11.42 475.97,11.42 476.23,11.42 476.49,11.41 476.75,11.41 477.01,11.41 477.27,11.40 477.53,11.40 477.79,11.40 478.05,11.40 478.31,11.39 478.57,11.39 478.83,11.39 479.09,11.38 479.35,11.38 479.61,11.38 479.87,11.38 480.13,11.37 480.39,11.37 480.65,11.37 480.91,11.37 481.17,11.36 481.43,11.36 481.69,11.36 481.95,11.36 482.21,11.35 482.47,11.35 482.73,11.35 482.99,11.35 483.25,11.35 483.51,11.34 483.77,11.34 484.03,11.34 484.29,11.34 484.55,11.33 484.81,11.33 485.07,11.33 485.33,11.33 485.59,11.33 485.85,11.32 486.11,11.32 486.37,11.32 486.63,11.32 486.89,11.31 487.15,11.31 487.41,11.31 487.67,11.31 487.92,11.31 488.18,11.30 488.44,11.30 488.70,11.30 488.96,11.30 489.22,11.30 489.48,11.29 489.74,11.29 490.00,11.29 490.26,11.29 490.52,11.29 490.78,11.29 491.04,11.28 491.30,11.28 491.56,11.28 491.82,11.28 492.08,11.28 492.34,11.28 492.60,11.27 492.86,11.27 493.12,11.27 493.38,11.27 493.64,11.27 493.90,11.26 494.16,11.26 494.42,11.26 494.68,11.26 494.94,11.26 495.20,11.26 495.46,11.26 495.72,11.25 495.98,11.25 496.24,11.25 496.50,11.25"/>
<polyline stroke="#ff00ff" points="81.00,10.87 81.26,10.88 81.52,10.88 81.78,10.88 82.04,10.88 82.30,10.88 82.56,10.88 82.82,10.88 83.08,10.89 83.34,10.89 83.60,10.89 83.86,10.89 84.12,10.89 84.38,10.89 84.64,10.89 84.90,10.90 85.16,10.90 85.42,10.90 85.68,10.90 85.94,10.90 86.20,10.90 86.46,10.90 86.72,10.91 86.98,10.91 87.24,10.91 87.50,10.91 87.76,10.91 88.02,10.91 88.28,10.92 88.54,10.92 88.80,10.92 89.06,10.92 89.32,10.92 89.58,10.92 89.83,10.93 90.09,10.93 90.35,10.93 90.61,10.93 90.87,10.93 91.13,10.94 91.39,10.94 91.65,10.94 91.91,10.94 92.17,10.94 92.43,10.94 92.69,10.95 92.95,10.95 93.21,10.95 93.47,10.95 93.73,10.95 93.99,10.96 94.25,10.96 94.51,10.96 94.77,10.96 95.03,10.97 95.29,10.97 95.55,10.97 95.81,10.97 96.07,10.97 96.33,10.98 96.59,10.98 96.85,10.98 97.11,10.98 97.37,10.99 97.63,10.99 97.89,10.99 98.15,10.99 98.41,11.00 98.67,11.00 98.93,11.00 99.19,11.00 99.45,11.01 99.71,11.01 99.97,11.01 100.23,11.01 100.49,11.02 100.75,11.02 101.01,11.02 101.27,11.03 101.53,11.03 101.79,11.03 102.05,11.03 102.31,11.04 102.57,11.04 102.83,11.04 103.09,11.05 103.35,11.05 103.61,11.05 103.87,11.06 104.13,11.06 104.39,11.06 104.65,11.07 104.91,11.07 105.17,11.07 105.43,11.08 105.69,11.08 105.95,11.08 106.21,11.09 106.47,11.09 106.73,11.09 106.98,11.10 107.24,11.10 107.50,11.11 107.76,11.11 108.02,11.11 108.28,11.12 108.54,11.12 108.80,11.13 109.06,11.13 109.32,11.13 109.58,11.14 109.84,11.14 110.10,11.15 110.36,11.15 110.62,11.16 110.88,11.16 111.14,11.17 111.40,11.17 111.66,11.18 111.92,11.18 112.18,11.19 112.44,11.19 112.70,11.20 112.96,11.20 113.22,11.21 113.48,11.21 113.74,11.22 114.00,11.22 114.26,11.23 114.52,11.23 114.78,11.24 115.04,11.25 115.30,11.25 115.56,11.26 115.82,11.26 116.08,11.27 116.34,11.28 116.60,11.28 116.86,11.29 117.12,11.30 117.38,11.30 117.64,11.31 117.90,11.32 118.16,11.33 118.42,11.33 118.68,11.34 118.94,11.35 119.20,11.36 119.46,11.36 119.72,11.37 119.98,11.38 120.24,11.39 120.50,11.40 120.76,11.41 121.02,11.42 121.28,11.43 121.54,11.43 121.80,11.44 122.06,11.45 122.32,11.46 122.58,11.47 122.84,11.48 123.10,11.49 123.36,11.51 123.62,11.52 123.88,11.53 124.14,11.54 124.39,11.55 124.65,11.56 124.91,11.58 125.17,11.59 125.43,11.60 125.69,11.61 125.95,11.63 126.21,11.64 126.47,11.65 126.73,11.67 126.99,11.68 127.25,11.70 127.51,11.71 127.77,11.73 128.03,11.74 128.29,11.76 128.55,11.78 128.81,11.79 129.07,11.81 129.33,11.83 129.59,11.85 129.85,11.87 130.11,11.89 130.37,11.91 130.63,11.93 130.89,11.95 131.15,11.97 131.41,11.99 131.67,12.02 131.93,12.04 132.19,12.06 132.45,12.09 132.71,12.11 132.97,12.14 133.23,12.17 133.49,12.19 133.75,12.22 134.01,12.25 134.27,12.28 134.53,12.31 134.79,12.34 135.05,12.38 135.31,12.41 135.57,12.45 135.83,12.48 136.09,12.52 136.35,12.56 136.61,12.60 136.87,12.64 137.13,12.68 137.39,12.73 137.65,12.77 137.91,12.82 138.17,12.87 138.43,12.92 138.69,12.97 138.95,13.02 139.21,13.08 139.47,13.14 139.73,13.20 139.99,13.26 140.25,13.32 140.51,13.39 140.77,13.46 141.03,13.54 141.29,13.61 141.55,13.69 141.80,13.77 142.06,13.86 142.32,13.95 142.58,14.05 142.84,14.14 143.10,14.25 143.36,14.36 143.62,14.47 143.88,14.59 144.14,14.72 144.40,14.86 144.66,15.00 144.92,15.15 145.18,15.31 145.44,15.48 145.70,15.67 145.96,15.86 146.22,16.07 146.48,16.29 146.74,16.54 147.00,16.80 147.26,17.08 147.52,17.38 147.78,17.71 148.04,18.07 148.30,18.45 148.56,18.87 148.82,19.32 149.08,19.81 149.34,20.35 149.60,20.93 149.86,21.55 150.12,22.23 150.38,22.97 150.64,23.76 150.90,24.62 151.16,25.54 151.42,26.53 151.68,27.60 151.94,28.73 152.20,29.95 152.46,31.24 152.72,32.62 152.98,34.07 153.24,35.61 153.50,37.23 153.76,38.93 154.02,40.70 154.28,42.55 154.54,44.46 154.80,46.43 155.06,48.45 155.32,50.50 155.58,52.58 155.84,54.67 156.10,56.74 156.36,58.77 156.62,60.74 156.88,62.61 157.14,64.36 157.40,65.94 157.66,67.33 157.92,68.50 158.18,69.41 158.44,70.04 158.70,70.38 158.95,70.41 159.21,70.13 159.47,69.56 159.73,68.71 159.99,67.59 160.25,66.24 160.51,64.70 160.77,62.98 161.03,61.14 161.29,59.19 161.55,57.17 161.81,55.11 162.07,53.02 162.33,50.94 162.59,48.88 162.85,46.86 163.11,44.88 163.37,42.96 163.63,41.10 163.89,39.31 164.15,37.60 164.41,35.97 164.67,34.42 164.93,32.95 165.19,31.56 165.45,30.25 165.71,29.02 165.97,27.87 166.23,26.79 166.49,25.79 166.75,24.86 167.01,23.99 167.27,23.19 167.53,22.44 167.79,21.75 168.05,21.12 168.31,20.53 168.57,19.99 168.83,19.49 169.09,19.03 169.35,18.61 169.61,18.22 169.87,17.86 170.13,17.53 170.39,17.22 170.65,16.94 170.91,16.68 171.17,16.43 171.43,16.21 171.69,16.00 171.95,15.80 172.21,15.62 172.47,15.45 172.73,15.29 172.99,15.13 173.25,14.99 173.51,14.86 173.77,14.73 174.03,14.61 174.29,14.50 174.55,14.39 174.81,14.29 175.07,14.19 175.33,14.09 175.59,14.00 175.85,13.92 176.11,13.84 176.36,13.76 176.62,13.69 176.88,13.61 177.14,13.55 177.40,13.48 177.66,13.42 177.92,13.35 178.18,13.30 178.44,13.24 178.70,13.19 178.96,13.13 179.22,13.08 179.48,13.03 179.74,12.99 180.00,12.94 180.26,12.90 180.52,12.86 180.78,12.82 181.04,12.78 181.30,12.74 181.56,12.70 181.82,12.67 182.08,12.63 182.34,12.60 182.60,12.57 182.86,12.54 183.12,12.51 183.38,12.48 183.64,12.45 183.90,12.42 184.16,12.40 184.42,12.37 184.68,12.35 184.94,12.32 185.20,12.30 185.46,12.28 185.72,12.26 185.98,12.23 186.24,12.21 186.50,12.19 186.76,12.17 187.02,12.16 187.28,12.14 187.54,12.12 187.80,12.10 188.06,12.09 188.32,12.07 188.58,12.05 188.84,12.04 189.10,12.02 189.36,12.01 189.62,11.99 189.88,11.98 190.14,11.97 190.40,11.95 190.66,11.94 190.92,11.93 191.18,11.92 191.44,11.91 191.70,11.90 191.96,11.88 192.22,11.87 192.48,11.86 192.74,11.85 193.00,11.84 193.26,11.83 193.52,11.83 193.77,11.82 194.03,11.81 194.29,11.80 194.55,11.79 194.81,11.78 195.07,11.78 195.33,11.77 195.59,11.76 195.85,11.75 196.11,11.75 196.37,11.74 196.63,11.73 196.89,11.73 197.15,11.72 197.41,11.71 197.67,11.71 197.93,11.70 198.19,11.70 198.45,11.69 198.71,11.69 198.97,11.68 199.23,11.68 199.49,11.67 199.75,11.67 200.01,11.66 200.27,11.66 200.53,11.66 200.79,11.65 201.05,11.65 201.31,11.64 201.57,11.64 201.83,11.64 202.09,11.63 202.35,11.63 202.61,11.63 202.87,11.62 203.13,11.62 203.39,11.62 203.65,11.62 203.91,11.61 204.17,11.61 204.43,11.61 204.69,11.61 204.95,11.60 205.21,11.60 205.47,11.60 205.73,11.60 205.99,11.60 206.25,11.59 206.51,11.59 206.77,11.59 207.03,11.59 207.29,11.59 207.55,11.59 207.81,11.59 208.07,11.59 208.33,11.58 208.59,11.58 208.85,11.58 209.11,11.58 209.37,11.58 209.63,11.58 209.89,11.58 210.15,11.58 210.41,11.58 210.67,11.58 210.92,11.58 211.18,11.58 211.44,11.58 211.70,11.58 211.96,11.58 212.22,11.58 212.48,11.58 212.74,11.58 213.00,11.58 213.26,11.58 213.52,11.58 213.78,11.58 214.04,11.58 214.30,11.58 214.56,11.58 214.82,11.59 215.08,11.59 215.34,11.59 215.60,11.59 215.86,11.59 216.12,11.59 216.38,11.59 216.64,11.59 216.90,11.59 217.16,11.60 217.42,11.60 217.68,11.60 217.94,11.60 218.20,11.60 218.46,11.60 218.72,11.61 218.98,11.61 219.24,11.61 219.50,11.61 219.76,11.61 220.02,11.62 220.28,11.62 220.54,11.62 220.80,11.62 221.06,11.62 221.32,11.63 221.58,11.63 221.84,11.63 222.10,11.64 222.36,11.64 222.62,11.64 222.88,11.64 223.14,11.65 223.40,11.65 223.66,11.65 223.92,11.66 224.18,11.66 224.44,11.66 224.70,11.67 224.96,11.67 225.22,11.67 225.48,11.68 225.74,11.68 226.00,11.68 226.26,11.69 226.52,11.69 226.78,11.69 227.04,11.70 227.30,11.70 227.56,11.71 227.82,11.71 228.08,11.71 228.33,11.72 228.59,11.72 228.85,11.73 229.11,11.73 229.37,11.74 229.63,11.74 229.89,11.75 230.15,11.75 230.41,11.76 230.67,11.76 230.93,11.77 231.19,11.77 231.45,11.78 231.71,11.78 231.97,11.79 232.23,11.79 232.49,11.80 232.75,11.81 233.01,11.81 233.27,11.82 233.53,11.82 233.79,11.83 234.05,11.84 234.31,11.84 234.57,11.85 234.83,11.86 235.09,11.86 235.35,11.87 235.61,11.88 235.87,11.89 236.13,11.89 236.39,11.90 236.65,11.91 236.91,11.92 237.17,11.92 237.43,11.93 237.69,11.94 237.95,11.95 238.21,11.96 238.47,11.97 238.73,11.97 238.99,11.98 239.25,11.99 239.51,12.00 239.77,12.01 240.03,12.02 240.29,12.03 240.55,12.04 240.81,12.05 241.07,12.06 241.33,12.07 241.59,12.09 241.85,12.10 242.11,12.11 242.37,12.12 242.63,12.13 242.89,12.14 243.15,12.16 243.41,12.17 243.67,12.18 243.93,12.20 244.19,12.21 244.45,12.23 244.71,12.24 244.97,12.26 245.23,12.27 245.48,12.29 245.74,12.30 246.00,12.32 246.26,12.34 246.52,12.35 246.78,12.37 247.04,12.39 247.30,12.41 247.56,12.43 247.82,12.45 248.08,12.47 248.34,12.49 248.60,12.51 248.86,12.54 249.12,12.56 249.38,12.59 249.64,12.61 249.90,12.64 250.16,12.66 250.42,12.69 250.68,12.72 250.94,12.75 251.20,12.78 251.46,12.81 251.72,12.85 251.98,12.88 252.24,12.92 252.50,12.95 252.76,12.99 253.02,13.03 253.28,13.07 253.54,13.12 253.80,13.16 254.06,13.21 254.32,13.26 254.58,13.31 254.84,13.36 255.10,13.42 255.36,13.48 255.62,13.54 255.88,13.60 256.14,13.67 256.40,13.74 256.66,13.81 256.92,13.89 257.18,13.97 257.44,14.06 257.70,14.15 257.96,14.25 258.22,14.35 258.48,14.45 258.74,14.57 259.00,14.69 259.26,14.81 259.52,14.95 259.78,15.09 260.04,15.24 260.30,15.40 260.56,15.57 260.82,15.75 261.08,15.94 261.34,16.14 261.60,16.36 261.86,16.59 262.12,16.84 262.38,17.10 262.64,17.37 262.89,17.67 263.15,17.98 263.41,18.31 263.67,18.65 263.93,19.02 264.19,19.41 264.45,19.81 264.71,20.23 264.97,20.67 265.23,21.12 265.49,21.58 265.75,22.05 266.01,22.51 266.27,22.97 266.53,23.42 266.79,23.85 267.05,24.25 267.31,24.60 267.57,24.91 267.83,25.16 268.09,25.35 268.35,25.46 268.61,25.50 268.87,25.46 269.13,25.36 269.39,25.18 269.65,24.93 269.91,24.63 270.17,24.28 270.43,23.89 270.69,23.47 270.95,23.04 271.21,22.59 271.47,22.13 271.73,21.68 271.99,21.23 272.25,20.79 272.51,20.37 272.77,19.96 273.03,19.57 273.29,19.19 273.55,18.84 273.81,18.50 274.07,18.19 274.33,17.89 274.59,17.61 274.85,17.35 275.11,17.10 275.37,16.87 275.63,16.65 275.89,16.45 276.15,16.26 276.41,16.08 276.67,15.91 276.93,15.76 277.19,15.61 277.45,15.47 277.71,15.34 277.97,15.22 278.23,15.11 278.49,15.00 278.75,14.90 279.01,14.81 279.27,14.72 279.53,14.64 279.79,14.56 280.05,14.49 280.30,14.42 280.56,14.36 280.82,14.30 281.08,14.24 281.34,14.19 281.60,14.14 281.86,14.09 282.12,14.04 282.38,14.00 282.64,13.97 282.90,13.93 283.16,13.90 283.42,13.86 283.68,13.83 283.94,13.81 284.20,13.78 284.46,13.76 284.72,13.74 284.98,13.72 285.24,13.70 285.50,13.68 285.76,13.67 286.02,13.65 286.28,13.64 286.54,13.63 286.80,13.62 287.06,13.61 287.32,13.60 287.58,13.60 287.84,13.60 288.10,13.59 288.36,13.59 288.62,13.59 288.88,13.59 289.14,13.60 289.40,13.60 289.66,13.60 289.92,13.61 290.18,13.62 290.44,13.63 290.70,13.64 290.96,13.65 291.22,13.66 291.48,13.68 291.74,13.70 292.00,13.71 292.26,13.73 292.52,13.76 292.78,13.78 293.04,13.80 293.30,13.83 293.56,13.86 293.82,13.89 294.08,13.93 294.34,13.96 294.60,14.00 294.86,14.04 295.12,14.09 295.38,14.13 295.64,14.18 295.90,14.23 296.16,14.29 296.42,14.35 296.68,14.42 296.94,14.48 297.20,14.56 297.45,14.63 297.71,14.71 297.97,14.80 298.23,14.90 298.49,14.99 298.75,15.10 299.01,15.21 299.27,15.33 299.53,15.46 299.79,15.60 300.05,15.74 300.31,15.90 300.57,16.07 300.83,16.24 301.09,16.43 301.35,16.64 301.61,16.85 301.87,17.08 302.13,17.33 302.39,17.59 302.65,17.87 302.91,18.17 303.17,18.48 303.43,18.81 303.69,19.17 303.95,19.54 304.21,19.93 304.47,20.33 304.73,20.76 304.99,21.19 305.25,21.64 305.51,22.10 305.77,22.55 306.03,23.00 306.29,23.44 306.55,23.86 306.81,24.25 307.07,24.60 307.33,24.91 307.59,25.16 307.85,25.34 308.11,25.46 308.37,25.50 308.63,25.47 308.89,25.36 309.15,25.18 309.41,24.93 309.67,24.63 309.93,24.27 310.19,23.88 310.45,23.46 310.71,23.01 310.97,22.55 311.23,22.08 311.49,21.62 311.75,21.15 312.01,20.70 312.27,20.26 312.53,19.84 312.79,19.44 313.05,19.05 313.31,18.68 313.57,18.33 313.83,18.00 314.09,17.69 314.35,17.39 314.61,17.12 314.86,16.85 315.12,16.61 315.38,16.38 315.64,16.16 315.90,15.95 316.16,15.76 316.42,15.58 316.68,15.41 316.94,15.25 317.20,15.10 317.46,14.96 317.72,14.82 317.98,14.70 318.24,14.58 318.50,14.46 318.76,14.35 319.02,14.25 319.28,14.16 319.54,14.07 319.80,13.98 320.06,13.90 320.32,13.82 320.58,13.74 320.84,13.67 321.10,13.60 321.36,13.54 321.62,13.48 321.88,13.42 322.14,13.36 322.40,13.31 322.66,13.26 322.92,13.21 323.18,13.16 323.44,13.12 323.70,13.07 323.96,13.03 324.22,12.99 324.48,12.95 324.74,12.92 325.00,12.88 325.26,12.85 325.52,12.81 325.78,12.78 326.04,12.75 326.30,12.72 326.56,12.69 326.82,12.66 327.08,12.64 327.34,12.61 327.60,12.59 327.86,12.56 328.12,12.54 328.38,12.52 328.64,12.49 328.90,12.47 329.16,12.45 329.42,12.43 329.68,12.41 329.94,12.39 330.20,12.37 330.46,12.35 330.72,12.34 330.98,12.32 331.24,12.30 331.50,12.29 331.76,12.27 332.02,12.26 332.27,12.24 332.53,12.23 332.79,12.21 333.05,12.20 333.31,12.18 333.57,12.17 333.83,12.16 334.09,12.14 334.35,12.13 334.61,12.12 334.87,12.11 335.13,12.10 335.39,12.08 335.65,12.07 335.91,12.06 336.17,12.05 336.43,12.04 336.69,12.03 336.95,12.02 337.21,12.01 337.47,12.00 337.73,11.99 337.99,11.98 338.25,11.97 338.51,11.96 338.77,11.95 339.03,11.95 339.29,11.94 339.55,11.93 339.81,11.92 340.07,11.91 340.33,11.91 340.59,11.90 340.85,11.89 341.11,11.88 341.37,11.88 341.63,11.87 341.89,11.86 342.15,11.85 342.41,11.85 342.67,11.84 342.93,11.83 343.19,11.83 343.45,11.82 343.71,11.81 343.97,11.81 344.23,11.80 344.49,11.80 344.75,11.79 345.01,11.79 345.27,11.78 345.53,11.77 345.79,11.77 346.05,11.76 346.31,11.76 346.57,11.75 346.83,11.75 347.09,11.74 347.35,11.74 347.61,11.73 347.87,11.73 348.13,11.72 348.39,11.72 348.65,11.71 348.91,11.71 349.17,11.71 349.42,11.70 349.68,11.70 349.94,11.69 350.20,11.69 350.46,11.68 350.72,11.68 350.98,11.68 351.24,11.67 351.50,11.67 351.76,11.67 352.02,11.66 352.28,11.66 352.54,11.66 352.80,11.65 353.06,11.65 353.32,11.65 353.58,11.64 353.84,11.64 354.10,11.64 354.36,11.63 354.62,11.63 354.88,11.63 355.14,11.62 355.40,11.62 355.66,11.62 355.92,11.62 356.18,11.61 356.44,11.61 356.70,11.61 356.96,11.61 357.22,11.60 357.48,11.60 357.74,11.60 358.00,11.60 358.26,11.60 358.52,11.59 358.78,11.59 359.04,11.59 359.30,11.59 359.56,11.59 359.82,11.58 360.08,11.58 360.34,11.58 360.60,11.58 360.86,11.58 361.12,11.58 361.38,11.58 361.64,11.57 361.90,11.57 362.16,11.57 362.42,11.57 362.68,11.57 362.94,11.57 363.20,11.57 363.46,11.57 363.72,11.57 363.98,11.57 364.24,11.56 364.50,11.56 364.76,11.56 365.02,11.56 365.28,11.56 365.54,11.56 365.80,11.56 366.06,11.56 366.32,11.56 366.58,11.56 366.83,11.56 367.09,11.56 367.35,11.56 367.61,11.56 367.87,11.56 368.13,11.56 368.39,11.56 368.65,11.56 368.91,11.56 369.17,11.56 369.43,11.56 369.69,11.57 369.95,11.57 370.21,11.57 370.47,11.57 370.73,11.57 370.99,11.57 371.25,11.57 371.51,11.57 371.77,11.57 372.03,11.58 372.29,11.58 372.55,11.58 372.81,11.58 373.07,11.58 373.33,11.58 373.59,11.59 373.85,11.59 374.11,11.59 374.37,11.59 374.63,11.59 374.89,11.60 375.15,11.60 375.41,11.60 375.67,11.61 375.93,11.61 376.19,11.61 376.45,11.61 376.71,11.62 376.97,11.62 377.23,11.62 377.49,11.63 377.75,11.63 378.01,11.63 378.27,11.64 378.53,11.64 378.79,11.65 379.05,11.65 379.31,11.66 379.57,11.66 379.83,11.66 380.09,11.67 380.35,11.67 380.61,11.68 380.87,11.69 381.13,11.69 381.39,11.70 381.65,11.70 381.91,11.71 382.17,11.71 382.43,11.72 382.69,11.73 382.95,11.73 383.21,11.74 383.47,11.75 383.73,11.75 383.98,11.76 384.24,11.77 384.50,11.78 384.76,11.79 385.02,11.79 385.28,11.80 385.54,11.81 385.80,11.82 386.06,11.83 386.32,11.84 386.58,11.85 386.84,11.86 387.10,11.87 387.36,11.88 387.62,11.89 387.88,11.90 388.14,11.91 388.40,11.92 388.66,11.94 388.92,11.95 389.18,11.96 389.44,11.97 389.70,11.99 389.96,12.00 390.22,12.02 390.48,12.03 390.74,12.05 391.00,12.06 391.26,12.08 391.52,12.09 391.78,12.11 392.04,12.13 392.30,12.15 392.56,12.17 392.82,12.18 393.08,12.20 393.34,12.22 393.60,12.25 393.86,12.27 394.12,12.29 394.38,12.31 394.64,12.33 394.90,12.36 395.16,12.38 395.42,12.41 395.68,12.44 395.94,12.46 396.20,12.49 396.46,12.52 396.72,12.55 396.98,12.58 397.24,12.61 397.50,12.65 397.76,12.68 398.02,12.72 398.28,12.75 398.54,12.79 398.80,12.83 399.06,12.87 399.32,12.91 399.58,12.96 399.84,13.00 400.10,13.05 400.36,13.10 400.62,13.15 400.88,13.20 401.14,13.25 401.39,13.31 401.65,13.37 401.91,13.43 402.17,13.49 402.43,13.55 402.69,13.62 402.95,13.69 403.21,13.77 403.47,13.84 403.73,13.92 403.99,14.01 404.25,14.09 404.51,14.18 404.77,14.28 405.03,14.38 405.29,14.48 405.55,14.59 405.81,14.70 406.07,14.82 406.33,14.94 406.59,15.07 406.85,15.21 407.11,15.35 407.37,15.50 407.63,15.66 407.89,15.83 408.15,16.01 408.41,16.19 408.67,16.39 408.93,16.59 409.19,16.81 409.45,17.04 409.71,17.28 409.97,17.54 410.23,17.81 410.49,18.10 410.75,18.41 411.01,18.74 411.27,19.08 411.53,19.45 411.79,19.85 412.05,20.27 412.31,20.72 412.57,21.20 412.83,21.71 413.09,22.27 413.35,22.86 413.61,23.49 413.87,24.17 414.13,24.91 414.39,25.70 414.65,26.55 414.91,27.47 415.17,28.46 415.43,29.53 415.69,30.69 415.95,31.93 416.21,33.28 416.47,34.74 416.73,36.31 416.99,38.00 417.25,39.81 417.51,41.76 417.77,43.84 418.03,46.05 418.29,48.39 418.55,50.84 418.80,53.39 419.06,56.00 419.32,58.65 419.58,61.27 419.84,63.82 420.10,66.22 420.36,68.38 420.62,70.25 420.88,71.72 421.14,72.75 421.40,73.28 421.66,73.28 421.92,72.75 422.18,71.73 422.44,70.25 422.70,68.39 422.96,66.22 423.22,63.82 423.48,61.28 423.74,58.65 424.00,56.00 424.26,53.39 424.52,50.84 424.78,48.38 425.04,46.04 425.30,43.83 425.56,41.75 425.82,39.80 426.08,37.98 426.34,36.28 426.60,34.71 426.86,33.25 427.12,31.90 427.38,30.65 427.64,29.50 427.90,28.42 428.16,27.43 428.42,26.51 428.68,25.65 428.94,24.86 429.20,24.13 429.46,23.44 429.72,22.80 429.98,22.21 430.24,21.66 430.50,21.14 430.76,20.66 431.02,20.20 431.28,19.78 431.54,19.38 431.80,19.01 432.06,18.66 432.32,18.33 432.58,18.03 432.84,17.73 433.10,17.46 433.36,17.20 433.62,16.95 433.88,16.72 434.14,16.50 434.40,16.30 434.66,16.10 434.92,15.91 435.18,15.73 435.44,15.57 435.70,15.41 435.95,15.25 436.21,15.11 436.47,14.97 436.73,14.84 436.99,14.71 437.25,14.59 437.51,14.48 437.77,14.37 438.03,14.26 438.29,14.16 438.55,14.06 438.81,13.97 439.07,13.88 439.33,13.80 439.59,13.71 439.85,13.64 440.11,13.56 440.37,13.49 440.63,13.42 440.89,13.35 441.15,13.29 441.41,13.22 441.67,13.16 441.93,13.11 442.19,13.05 442.45,13.00 442.71,12.94 442.97,12.89 443.23,12.84 443.49,12.80 443.75,12.75 444.01,12.71 444.27,12.67 444.53,12.62 444.79,12.58 445.05,12.55 445.31,12.51 445.57,12.47 445.83,12.44 446.09,12.40 446.35,12.37 446.61,12.34 446.87,12.31 447.13,12.28 447.39,12.25 447.65,12.22 447.91,12.19 448.17,12.16 448.43,12.14 448.69,12.11 448.95,12.09 449.21,12.06 449.47,12.04 449.73,12.02 449.99,11.99 450.25,11.97 450.51,11.95 450.77,11.93 451.03,11.91 451.29,11.89 451.55,11.87 451.81,11.85 452.07,11.83 452.33,11.82 452.59,11.80 452.85,11.78 453.11,11.77 453.36,11.75 453.62,11.73 453.88,11.72 454.14,11.70 454.40,11.69 454.66,11.67 454.92,11.66 455.18,11.65 455.44,11.63 455.70,11.62 455.96,11.61 456.22,11.59 456.48,11.58 456.74,11.57 457.00,11.56 457.26,11.55 457.52,11.53 457.78,11.52 458.04,11.51 458.30,11.50 458.56,11.49 458.82,11.48 459.08,11.47 459.34,11.46 459.60,11.45 459.86,11.44 460.12,11.43 460.38,11.42 460.64,11.41 460.90,11.40 461.16,11.40 461.42,11.39 461.68,11.38 461.94,11.37 462.20,11.36 462.46,11.36 462.72,11.35 462.98,11.34 463.24,11.33 463.50,11.32 463.76,11.32 464.02,11.31 464.28,11.30 464.54,11.30 464.80,11.29 465.06,11.28 465.32,11.28 465.58,11.27 465.84,11.26 466.10,11.26 466.36,11.25 466.62,11.25 466.88,11.24 467.14,11.23 467.40,11.23 467.66,11.22 467.92,11.22 468.18,11.21 468.44,11.21 468.70,11.20 468.96,11.20 469.22,11.19 469.48,11.19 469.74,11.18 470.00,11.18 470.26,11.17 470.52,11.17 470.77,11.16 471.03,11.16 471.29,11.15 471.55,11.15 471.81,11.14 472.07,11.14 472.33,11.13 472.59,11.13 472.85,11.13 473.11,11.12 473.37,11.12 473.63,11.11 473.89,11.11 474.15,11.11 474.41,11.10 474.67,11.10 474.93,11.09 475.19,11.09 475.45,11.09 475.71,11.08 475.97,11.08 476.23,11.08 476.49,11.07 476.75,11.07 477.01,11.07 477.27,11.06 477.53,11.06 477.79,11.06 478.05,11.05 478.31,11.05 478.57,11.05 478.83,11.04 479.09,11.04 479.35,11.04 479.61,11.04 479.87,11.03 480.13,11.03 480.39,11.03 480.65,11.02 480.91,11.02 481.17,11.02 481.43,11.02 481.69,11.01 481.95,11.01 482.21,11.01 482.47,11.00 482.73,11.00 482.99,11.00 483.25,11.00 483.51,10.99 483.77,10.99 484.03,10.99 484.29,10.99 484.55,10.98 484.81,10.98 485.07,10.98 485.33,10.98 485.59,10.98 485.85,10.97 486.11,10.97 486.37,10.97 486.63,10.97 486.89,10.96 487.15,10.96 487.41,10.96 487.67,10.96 487.92,10.96 488.18,10.95 488.44,10.95 488.70,10.95 488.96,10.95 489.22,10.95 489.48,10.94 489.74,10.94 490.00,10.94 490.26,10.94 490.52,10.94 490.78,10.93 491.04,10.93 491.30,10.93 491.56,10.93 491.82,10.93 492.08,10.93 492.34,10.92 492.60,10.92 492.86,10.92 493.12,10.92 493.38,10.92 493.64,10.92 493.90,10.91 494.16,10.91 494.42,10.91 494.68,10.91 494.94,10.91 495.20,10.91 495.46,10.90 495.72,10.90 495.98,10.90 496.24,10.90 496.50,10.90"/>
<polyline stroke="#00ffff" points="81.00,11.40 81.26,11.40 81.52,11.40 81.78,11.40 82.04,11.41 82.30,11.41 82.56,11.41 82.82,11.41 83.08,11.42 83.34,11.42 83.60,11.42 83.86,11.42 84.12,11.43 84.38,11.43 84.64,11.43 84.90,11.44 85.16,11.44 85.42,11.44 85.68,11.44 85.94,11.45 86.20,11.45 86.46,11.45 86.72,11.45 86.98,11.46 87.24,11.46 87.50,11.46 87.76,11.47 88.02,11.47 88.28,11.47 88.54,11.47 88.80,11.48 89.06,11.48 89.32,11.48 89.58,11.49 89.83,11.49 90.09,11.49 90.35,11.50 90.61,11.50 90.87,11.50 91.13,11.51 91.39,11.51 91.65,11.51 91.91,11.52 92.17,11.52 92.43,11.52 92.69,11.53 92.95,11.53 93.21,11.53 93.47,11.54 93.73,11.54 93.99,11.54 94.25,11.55 94.51,11.55 94.77,11.55 95.03,11.56 95.29,11.56 95.55,11.57 95.81,11.57 96.07,11.57 96.33,11.58 96.59,11.58 96.85,11.59 97.11,11.59 97.37,11.59 97.63,11.60 97.89,11.60 98.15,11.61 98.41,11.61 98.67,11.61 98.93,11.62 99.19,11.62 99.45,11.63 99.71,11.63 99.97,11.64 100.23,11.64 100.49,11.65 100.75,11.65 101.01,11.65 101.27,11.66 101.53,11.66 101.79,11.67 102.05,11.67 102.31,11.68 102.57,11.68 102.83,11.69 103.09,11.69 103.35,11.70 103.61,11.70 103.87,11.71 104.13,11.71 104.39,11.72 104.65,11.72 104.91,11.73 105.17,11.74 105.43,11.74 105.69,11.75 105.95,11.75 106.21,11.76 106.47,11.76 106.73,11.77 106.98,11.78 107.24,11.78 107.50,11.79 107.76,11.79 108.02,11.80 108.28,11.81 108.54,11.81 108.80,11.82 109.06,11.83 109.32,11.83 109.58,11.84 109.84,11.85 110.10,11.85 110.36,11.86 110.62,11.87 110.88,11.87 111.14,11.88 111.40,11.89 111.66,11.89 111.92,11.90 112.18,11.91 112.44,11.92 112.70,11.92 112.96,11.93 113.22,11.94 113.48,11.95 113.74,11.96 114.00,11.96 114.26,11.97 114.52,11.98 114.78,11.99 115.04,12.00 115.30,12.00 115.56,12.01 115.82,12.02 116.08,12.03 116.34,12.04 116.60,12.05 116.86,12.06 117.12,12.07 117.38,12.08 117.64,12.09 117.90,12.10 118.16,12.11 118.42,12.12 118.68,12.13 118.94,12.14 119.20,12.15 119.46,12.16 119.72,12.17 119.98,12.18 120.24,12.19 120.50,12.20 120.76,12.21 121.02,12.22 121.28,12.24 121.54,12.25 121.80,12.26 122.06,12.27 122.32,12.28 122.58,12.30 122.84,12.31 123.10,12.32 123.36,12.33 123.62,12.35 123.88,12.36 124.14,12.37 124.39,12.39 124.65,12.40 124.91,12.42 125.17,12.43 125.43,12.45 125.69,12.46 125.95,12.48 126.21,12.49 126.47,12.51 126.73,12.52 126.99,12.54 127.25,12.55 127.51,12.57 127.77,12.59 128.03,12.61 128.29,12.62 128.55,12.64 128.81,12.66 129.07,12.68 129.33,12.69 129.59,12.71 129.85,12.73 130.11,12.75 130.37,12.77 130.63,12.79 130.89,12.81 131.15,12.83 131.41,12.85 131.67,12.88 131.93,12.90 132.19,12.92 132.45,12.94 132.71,12.97 132.97,12.99 133.23,13.01 133.49,13.04 133.75,13.06 134.01,13.09 134.27,13.11 134.53,13.14 134.79,13.17 135.05,13.19 135.31,13.22 135.57,13.25 135.83,13.28 136.09,13.31 136.35,13.34 136.61,13.37 136.87,13.40 137.13,13.43 137.39,13.46 137.65,13.49 137.91,13.53 138.17,13.56 138.43,13.60 138.69,13.63 138.95,13.67 139.21,13.71 139.47,13.75 139.73,13.78 139.99,13.82 140.25,13.86 140.51,13.91 140.77,13.95 141.03,13.99 141.29,14.03 141.55,14.08 141.80,14.13 142.06,14.17 142.32,14.22 142.58,14.27 142.84,14.32 143.10,14.37 143.36,14.43 143.62,14.48 143.88,14.53 144.14,14.59 144.40,14.65 144.66,14.71 144.92,14.77 145.18,14.83 145.44,14.90 145.70,14.96 145.96,15.03 146.22,15.10 146.48,15.17 146.74,15.24 147.00,15.32 147.26,15.39 147.52,15.47 147.78,15.55 148.04,15.63 148.30,15.72 148.56,15.81 148.82,15.90 149.08,15.99 149.34,16.08 149.60,16.18 149.86,16.28 150.12,16.39 150.38,16.49 150.64,16.60 150.90,16.72 151.16,16.83 151.42,16.96 151.68,17.08 151.94,17.21 152.20,17.34 152.46,17.48 152.72,17.62 152.98,17.77 153.24,17.93 153.50,18.09 153.76,18.25 154.02,18.42 154.28,18.60 154.54,18.79 154.80,18.98 155.06,19.19 155.32,19.40 155.58,19.62 155.84,19.86 156.10,20.10 156.36,20.36 156.62,20.63 156.88,20.92 157.14,21.22 157.40,21.54 157.66,21.87 157.92,22.23 158.18,22.61 158.44,23.01 158.70,23.43 158.95,23.89 159.21,24.37 159.47,24.88 159.73,25.43 159.99,26.02 160.25,26.64 160.51,27.31 160.77,28.02 161.03,28.78 161.29,29.58 161.55,30.45 161.81,31.37 162.07,32.36 162.33,33.40 162.59,34.52 162.85,35.71 163.11,36.98 163.37,38.32 163.63,39.75 163.89,41.27 164.15,42.87 164.41,44.57 164.67,46.36 164.93,48.25 165.19,50.25 165.45,52.34 165.71,54.55 165.97,56.86 166.23,59.27 166.49,61.80 166.75,64.43 167.01,67.17 167.27,70.02 167.53,72.97 167.79,76.02 168.05,79.17 168.31,82.41 168.57,85.74 168.83,89.14 169.09,92.62 169.35,96.16 169.61,99.74 169.87,103.37 170.13,107.01 170.39,110.66 170.65,114.30 170.91,117.91 171.17,121.46 171.43,124.92 171.69,128.28 171.95,131.51 172.21,134.57 172.47,137.44 172.73,140.08 172.99,142.46 173.25,144.56 173.51,146.35 173.77,147.80 174.03,148.90 174.29,149.62 174.55,149.96 174.81,149.91 175.07,149.48 175.33,148.66 175.59,147.48 175.85,145.95 176.11,144.08 176.36,141.91 176.62,139.47 176.88,136.77 177.14,133.86 177.40,130.75 177.66,127.50 177.92,124.11 178.18,120.62 178.44,117.06 178.70,113.45 178.96,109.81 179.22,106.16 179.48,102.52 179.74,98.91 180.00,95.33 180.26,91.81 180.52,88.36 180.78,84.97 181.04,81.67 181.30,78.46 181.56,75.33 181.82,72.31 182.08,69.39 182.34,66.57 182.60,63.86 182.86,61.26 183.12,58.76 183.38,56.38 183.64,54.10 183.90,51.92 184.16,49.86 184.42,47.89 184.68,46.03 184.94,44.26 185.20,42.59 185.46,41.01 185.72,39.52 185.98,38.12 186.24,36.80 186.50,35.55 186.76,34.39 187.02,33.29 187.28,32.26 187.54,31.30 187.80,30.39 188.06,29.55 188.32,28.75 188.58,28.01 188.84,27.31 189.10,26.66 189.36,26.05 189.62,25.48 189.88,24.95 190.14,24.44 190.40,23.97 190.66,23.53 190.92,23.11 191.18,22.72 191.44,22.35 191.70,22.01 191.96,21.68 192.22,21.37 192.48,21.07 192.74,20.80 193.00,20.53 193.26,20.28 193.52,20.05 193.77,19.82 194.03,19.60 194.29,19.40 194.55,19.20 194.81,19.01 195.07,18.83 195.33,18.66 195.59,18.49 195.85,18.33 196.11,18.18 196.37,18.03 196.63,17.89 196.89,17.75 197.15,17.62 197.41,17.49 197.67,17.37 197.93,17.25 198.19,17.13 198.45,17.02 198.71,16.91 198.97,16.81 199.23,16.71 199.49,16.61 199.75,16.52 200.01,16.42 200.27,16.33 200.53,16.25 200.79,16.17 201.05,16.08 201.31,16.01 201.57,15.93 201.83,15.86 202.09,15.78 202.35,15.71 202.61,15.65 202.87,15.58 203.13,15.52 203.39,15.46 203.65,15.40 203.91,15.34 204.17,15.29 204.43,15.23 204.69,15.18 204.95,15.13 205.21,15.08 205.47,15.03 205.73,14.99 205.99,14.95 206.25,14.90 206.51,14.87 206.77,14.83 207.03,14.79 207.29,14.76 207.55,14.72 207.81,14.69 208.07,14.66 208.33,14.64 208.59,14.61 208.85,14.59 209.11,14.56 209.37,14.54 209.63,14.53 209.89,14.51 210.15,14.50 210.41,14.49 210.67,14.48 210.92,14.47 211.18,14.47 211.44,14.46 211.70,14.46 211.96,14.47 212.22,14.47 212.48,14.48 212.74,14.49 213.00,14.51 213.26,14.53 213.52,14.55 213.78,14.57 214.04,14.60 214.30,14.63 214.56,14.66 214.82,14.70 215.08,14.74 215.34,14.79 215.60,14.84 215.86,14.89 216.12,14.95 216.38,15.01 216.64,15.08 216.90,15.15 217.16,15.23 217.42,15.31 217.68,15.39 217.94,15.48 218.20,15.57 218.46,15.67 218.72,15.77 218.98,15.87 219.24,15.98 219.50,16.10 219.76,16.22 220.02,16.34 220.28,16.47 220.54,16.60 220.80,16.73 221.06,16.87 221.32,17.01 221.58,17.15 221.84,17.30 222.10,17.45 222.36,17.61 222.62,17.76 222.88,17.92 223.14,18.08 223.40,18.24 223.66,18.40 223.92,18.56 224.18,18.72 224.44,18.88 224.70,19.04 224.96,19.20 225.22,19.36 225.48,19.51 225.74,19.67 226.00,19.82 226.26,19.97 226.52,20.11 226.78,20.25 227.04,20.38 227.30,20.51 227.56,20.64 227.82,20.75 228.08,20.86 228.33,20.96 228.59,21.06 228.85,21.15 229.11,21.22 229.37,21.29 229.63,21.35 229.89,21.40 230.15,21.44 230.41,21.47 230.67,21.49 230.93,21.50 231.19,21.50 231.45,21.48 231.71,21.46 231.97,21.43 232.23,21.39 232.49,21.33 232.75,21.27 233.01,21.20 233.27,21.12 233.53,21.03 233.79,20.93 234.05,20.83 234.31,20.72 234.57,20.60 234.83,20.47 235.09,20.34 235.35,20.21 235.61,20.07 235.87,19.92 236.13,19.77 236.39,19.62 236.65,19.47 236.91,19.31 237.17,19.15 237.43,18.99 237.69,18.83 237.95,18.67 238.21,18.51 238.47,18.35 238.73,18.19 238.99,18.03 239.25,17.87 239.51,17.71 239.77,17.56 240.03,17.41 240.29,17.26 240.55,17.11 240.81,16.97 241.07,16.83 241.33,16.70 241.59,16.56 241.85,16.44 242.11,16.31 242.37,16.19 242.63,16.07 242.89,15.96 243.15,15.86 243.41,15.75 243.67,15.66 243.93,15.56 244.19,15.47 244.45,15.39 244.71,15.31 244.97,15.24 245.23,15.17 245.48,15.10 245.74,15.04 246.00,14.98 246.26,14.93 246.52,14.89 246.78,14.84 247.04,14.81 247.30,14.77 247.56,14.74 247.82,14.72 248.08,14.70 248.34,14.68 248.60,14.67 248.86,14.66 249.12,14.66 249.38,14.66 249.64,14.67 249.90,14.68 250.16,14.69 250.42,14.71 250.68,14.74 250.94,14.77 251.20,14.81 251.46,14.85 251.72,14.89 251.98,14.95 252.24,15.01 252.50,15.07 252.76,15.15 253.02,15.23 253.28,15.32 253.54,15.42 253.80,15.52 254.06,15.64 254.32,15.77 254.58,15.91 254.84,16.06 255.10,16.23 255.36,16.41 255.62,16.61 255.88,16.82 256.14,17.05 256.40,17.30 256.66,17.57 256.92,17.86 257.18,18.17 257.44,18.50 257.70,18.86 257.96,19.24 258.22,19.65 258.48,20.09 258.74,20.56 259.00,21.06 259.26,21.59 259.52,22.16 259.78,22.76 260.04,23.39 260.30,24.06 260.56,24.76 260.82,25.50 261.08,26.28 261.34,27.10 261.60,27.95 261.86,28.84 262.12,29.77 262.38,30.73 262.64,31.73 262.89,32.77 263.15,33.83 263.41,34.93 263.67,36.06 263.93,37.22 264.19,38.40 264.45,39.60 264.71,40.83 264.97,42.07 265.23,43.32 265.49,44.58 265.75,45.84 266.01,47.11 266.27,48.37 266.53,49.61 266.79,50.84 267.05,52.05 267.31,53.23 267.57,54.37 267.83,55.47 268.09,56.52 268.35,57.51 268.61,58.44 268.87,59.30 269.13,60.08 269.39,60.78 269.65,61.39 269.91,61.90 270.17,62.31 270.43,62.61 270.69,62.81 270.95,62.90 271.21,62.88 271.47,62.75 271.73,62.52 271.99,62.18 272.25,61.73 272.51,61.19 272.77,60.56 273.03,59.84 273.29,59.05 273.55,58.18 273.81,57.25 274.07,56.25 274.33,55.21 274.59,54.12 274.85,53.00 275.11,51.84 275.37,50.66 275.63,49.47 275.89,48.26 276.15,47.04 276.41,45.83 276.67,44.61 276.93,43.41 277.19,42.22 277.45,41.04 277.71,39.88 277.97,38.75 278.23,37.64 278.49,36.55 278.75,35.50 279.01,34.48 279.27,33.49 279.53,32.54 279.79,31.63 280.05,30.75 280.30,29.91 280.56,29.11 280.82,28.35 281.08,27.62 281.34,26.94 281.60,26.29 281.86,25.68 282.12,25.10 282.38,24.57 282.64,24.07 282.90,23.60 283.16,23.17 283.42,22.77 283.68,22.40 283.94,22.06 284.20,21.75 284.46,21.47 284.72,21.21 284.98,20.98 285.24,20.78 285.50,20.60 285.76,20.44 286.02,20.30 286.28,20.18 286.54,20.08 286.80,20.00 287.06,19.94 287.32,19.89 287.58,19.86 287.84,19.84 288.10,19.84 288.36,19.85 288.62,19.88 288.88,19.91 289.14,19.96 289.40,20.02 289.66,20.09 289.92,20.18 290.18,20.27 290.44,20.37 290.70,20.49 290.96,20.61 291.22,20.75 291.48,20.90 291.74,21.05 292.00,21.22 292.26,21.40 292.52,21.59 292.78,21.79 293.04,22.00 293.30,22.22 293.56,22.46 293.82,22.70 294.08,22.96 294.34,23.24 294.60,23.53 294.86,23.83 295.12,24.14 295.38,24.48 295.64,24.83 295.90,25.19 296.16,25.58 296.42,25.98 296.68,26.40 296.94,26.84 297.20,27.30 297.45,27.79 297.71,28.29 297.97,28.83 298.23,29.38 298.49,29.96 298.75,30.57 299.01,31.21 299.27,31.88 299.53,32.58 299.79,33.30 300.05,34.06 300.31,34.86 300.57,35.68 300.83,36.55 301.09,37.44 301.35,38.37 301.61,39.34 301.87,40.34 302.13,41.37 302.39,42.44 302.65,43.53 302.91,44.66 303.17,45.81 303.43,46.98 303.69,48.17 303.95,49.38 304.21,50.58 304.47,51.79 304.73,52.99 304.99,54.16 305.25,55.31 305.51,56.42 305.77,57.48 306.03,58.48 306.29,59.41 306.55,60.24 306.81,60.99 307.07,61.62 307.33,62.13 307.59,62.53 307.85,62.79 308.11,62.91 308.37,62.90 308.63,62.75 308.89,62.46 309.15,62.04 309.41,61.50 309.67,60.84 309.93,60.08 310.19,59.22 310.45,58.27 310.71,57.26 310.97,56.18 311.23,55.05 311.49,53.89 311.75,52.69 312.01,51.48 312.27,50.26 312.53,49.04 312.79,47.83 313.05,46.63 313.31,45.44 313.57,44.28 313.83,43.15 314.09,42.04 314.35,40.96 314.61,39.92 314.86,38.91 315.12,37.93 315.38,36.99 315.64,36.09 315.90,35.21 316.16,34.38 316.42,33.57 316.68,32.80 316.94,32.06 317.20,31.35 317.46,30.67 317.72,30.01 317.98,29.39 318.24,28.79 318.50,28.22 318.76,27.67 319.02,27.15 319.28,26.65 319.54,26.17 319.80,25.71 320.06,25.27 320.32,24.84 320.58,24.44 320.84,24.05 321.10,23.68 321.36,23.32 321.62,22.98 321.88,22.66 322.14,22.34 322.40,22.04 322.66,21.75 322.92,21.47 323.18,21.21 323.44,20.95 323.70,20.70 323.96,20.47 324.22,20.24 324.48,20.02 324.74,19.81 325.00,19.61 325.26,19.41 325.52,19.22 325.78,19.04 326.04,18.87 326.30,18.70 326.56,18.54 326.82,18.38 327.08,18.23 327.34,18.08 327.60,17.94 327.86,17.81 328.12,17.68 328.38,17.55 328.64,17.43 328.90,17.31 329.16,17.20 329.42,17.09 329.68,16.98 329.94,16.88 330.20,16.78 330.46,16.68 330.72,16.59 330.98,16.50 331.24,16.41 331.50,16.33 331.76,16.24 332.02,16.16 332.27,16.09 332.53,16.01 332.79,15.94 333.05,15.87 333.31,15.81 333.57,15.74 333.83,15.68 334.09,15.62 334.35,15.56 334.61,15.50 334.87,15.45 335.13,15.39 335.39,15.34 335.65,15.29 335.91,15.24 336.17,15.19 336.43,15.15 336.69,15.11 336.95,15.06 337.21,15.02 337.47,14.98 337.73,14.94 337.99,14.91 338.25,14.87 338.51,14.84 338.77,14.80 339.03,14.77 339.29,14.74 339.55,14.71 339.81,14.68 340.07,14.65 340.33,14.63 340.59,14.60 340.85,14.58 341.11,14.56 341.37,14.53 341.63,14.51 341.89,14.49 342.15,14.47 342.41,14.45 342.67,14.44 342.93,14.42 343.19,14.41 343.45,14.39 343.71,14.38 343.97,14.37 344.23,14.35 344.49,14.34 344.75,14.33 345.01,14.33 345.27,14.32 345.53,14.31 345.79,14.30 346.05,14.30 346.31,14.30 346.57,14.29 346.83,14.29 347.09,14.29 347.35,14.29 347.61,14.29 347.87,14.29 348.13,14.30 348.39,14.30 348.65,14.31 348.91,14.31 349.17,14.32 349.42,14.33 349.68,14.34 349.94,14.35 350.20,14.36 350.46,14.38 350.72,14.39 350.98,14.41 351.24,14.42 351.50,14.44 351.76,14.46 352.02,14.49 352.28,14.51 352.54,14.54 352.80,14.56 353.06,14.59 353.32,14.62 353.58,14.65 353.84,14.69 354.10,14.72 354.36,14.76 354.62,14.80 354.88,14.85 355.14,14.89 355.40,14.94 355.66,14.98 355.92,15.04 356.18,15.09 356.44,15.14 356.70,15.20 356.96,15.26 357.22,15.33 357.48,15.39 357.74,15.46 358.00,15.53 358.26,15.60 358.52,15.67 358.78,15.74 359.04,15.82 359.30,15.90 359.56,15.97 359.82,16.05 360.08,16.13 360.34,16.21 360.60,16.28 360.86,16.36 361.12,16.43 361.38,16.50 361.64,16.57 361.90,16.63 362.16,16.69 362.42,16.74 362.68,16.79 362.94,16.83 363.20,16.86 363.46,16.89 363.72,16.91 363.98,16.92 364.24,16.93 364.50,16.93 364.76,16.92 365.02,16.90 365.28,16.88 365.54,16.86 365.80,16.82 366.06,16.79 366.32,16.75 366.58,16.70 366.83,16.66 367.09,16.61 367.35,16.56 367.61,16.51 367.87,16.46 368.13,16.41 368.39,16.36 368.65,16.31 368.91,16.26 369.17,16.21 369.43,16.17 369.69,16.12 369.95,16.08 370.21,16.05 370.47,16.01 370.73,15.98 370.99,15.95 371.25,15.92 371.51,15.89 371.77,15.87 372.03,15.85 372.29,15.84 372.55,15.82 372.81,15.81 373.07,15.80 373.33,15.80 373.59,15.79 373.85,15.79 374.11,15.79 374.37,15.80 374.63,15.80 374.89,15.81 375.15,15.82 375.41,15.84 375.67,15.85 375.93,15.87 376.19,15.89 376.45,15.91 376.71,15.94 376.97,15.97 377.23,16.00 377.49,16.03 377.75,16.06 378.01,16.10 378.27,16.14 378.53,16.18 378.79,16.22 379.05,16.27 379.31,16.32 379.57,16.37 379.83,16.42 380.09,16.48 380.35,16.53 380.61,16.59 380.87,16.66 381.13,16.72 381.39,16.79 381.65,16.86 381.91,16.94 382.17,17.01 382.43,17.09 382.69,17.18 382.95,17.26 383.21,17.35 383.47,17.44 383.73,17.54 383.98,17.64 384.24,17.74 384.50,17.85 384.76,17.96 385.02,18.07 385.28,18.19 385.54,18.31 385.80,18.44 386.06,18.57 386.32,18.71 386.58,18.86 386.84,19.00 387.10,19.16 387.36,19.32 387.62,19.49 387.88,19.66 388.14,19.84 388.40,20.03 388.66,20.23 388.92,20.43 389.18,20.65 389.44,20.87 389.70,21.11 389.96,21.36 390.22,21.61 390.48,21.89 390.74,22.17 391.00,22.47 391.26,22.79 391.52,23.13 391.78,23.48 392.04,23.85 392.30,24.25 392.56,24.67 392.82,25.11 393.08,25.58 393.34,26.08 393.60,26.61 393.86,27.18 394.12,27.78 394.38,28.42 394.64,29.09 394.90,29.82 395.16,30.58 395.42,31.40 395.68,32.27 395.94,33.19 396.20,34.18 396.46,35.22 396.72,36.33 396.98,37.51 397.24,38.76 397.50,40.08 397.76,41.49 398.02,42.97 398.28,44.54 398.54,46.20 398.80,47.95 399.06,49.79 399.32,51.72 399.58,53.76 399.84,55.89 400.10,58.13 400.36,60.47 400.62,62.91 400.88,65.45 401.14,68.10 401.39,70.85 401.65,73.71 401.91,76.66 402.17,79.71 402.43,82.84 402.69,86.07 402.95,89.38 403.21,92.76 403.47,96.21 403.73,99.71 403.99,103.25 404.25,106.83 404.51,110.42 404.77,114.01 405.03,117.57 405.29,121.10 405.55,124.55 405.81,127.92 406.07,131.17 406.33,134.26 406.59,137.19 406.85,139.90 407.11,142.37 407.37,144.58 407.63,146.49 407.89,148.08 408.15,149.33 408.41,150.21 408.67,150.73 408.93,150.85 409.19,150.60 409.45,149.97 409.71,148.96 409.97,147.60 410.23,145.90 410.49,143.89 410.75,141.59 411.01,139.03 411.27,136.24 411.53,133.26 411.79,130.11 412.05,126.81 412.31,123.41 412.57,119.93 412.83,116.38 413.09,112.80 413.35,109.21 413.61,105.61 413.87,102.04 414.13,98.50 414.39,95.01 414.65,91.58 414.91,88.21 415.17,84.93 415.43,81.72 415.69,78.60 415.95,75.58 416.21,72.65 416.47,69.83 416.73,67.10 416.99,64.48 417.25,61.96 417.51,59.55 417.77,57.24 418.03,55.03 418.29,52.92 418.55,50.91 418.80,49.00 419.06,47.18 419.32,45.46 419.58,43.82 419.84,42.27 420.10,40.81 420.36,39.42 420.62,38.12 420.88,36.88 421.14,35.72 421.40,34.63 421.66,33.59 421.92,32.62 422.18,31.71 422.44,30.85 422.70,30.04 422.96,29.28 423.22,28.57 423.48,27.90 423.74,27.26 424.00,26.67 424.26,26.11 424.52,25.58 424.78,25.08 425.04,24.61 425.30,24.17 425.56,23.75 425.82,23.36 426.08,22.98 426.34,22.63 426.60,22.29 426.86,21.97 427.12,21.66 427.38,21.37 427.64,21.10 427.90,20.83 428.16,20.58 428.42,20.34 428.68,20.11 428.94,19.89 429.20,19.68 429.46,19.47 429.72,19.28 429.98,19.09 430.24,18.91 430.50,18.73 430.76,18.56 431.02,18.40 431.28,18.24 431.54,18.09 431.80,17.94 432.06,17.80 432.32,17.66 432.58,17.53 432.84,17.40 433.10,17.27 433.36,17.15 433.62,17.03 433.88,16.92 434.14,16.81 434.40,16.70 434.66,16.59 434.92,16.49 435.18,16.39 435.44,16.29 435.70,16.20 435.95,16.11 436.21,16.02 436.47,15.93 436.73,15.85 436.99,15.76 437.25,15.68 437.51,15.60 437.77,15.53 438.03,15.45 438.29,15.38 438.55,15.31 438.81,15.24 439.07,15.17 439.33,15.11 439.59,15.04 439.85,14.98 440.11,14.92 440.37,14.86 440.63,14.80 440.89,14.74 441.15,14.68 441.41,14.63 441.67,14.57 441.93,14.52 442.19,14.47 442.45,14.42 442.71,14.37 442.97,14.32 443.23,14.28 443.49,14.23 443.75,14.18 444.01,14.14 444.27,14.10 444.53,14.05 444.79,14.01 445.05,13.97 445.31,13.93 445.57,13.89 445.83,13.86 446.09,13.82 446.35,13.78 446.61,13.74 446.87,13.71 447.13,13.67 447.39,13.64 447.65,13.61 447.91,13.57 448.17,13.54 448.43,13.51 448.69,13.48 448.95,13.45 449.21,13.42 449.47,13.39 449.73,13.36 449.99,13.33 450.25,13.30 450.51,13.28 450.77,13.25 451.03,13.22 451.29,13.20 451.55,13.17 451.81,13.15 452.07,13.12 452.33,13.10 452.59,13.08 452.85,13.05 453.11,13.03 453.36,13.01 453.62,12.98 453.88,12.96 454.14,12.94 454.40,12.92 454.66,12.90 454.92,12.88 455.18,12.86 455.44,12.84 455.70,12.82 455.96,12.80 456.22,12.78 456.48,12.76 456.74,12.74 457.00,12.73 457.26,12.71 457.52,12.69 457.78,12.67 458.04,12.66 458.30,12.64 458.56,12.62 458.82,12.61 459.08,12.59 459.34,12.58 459.60,12.56 459.86,12.55 460.12,12.53 460.38,12.52 460.64,12.50 460.90,12.49 461.16,12.47 461.42,12.46 461.68,12.44 461.94,12.43 462.20,12.42 462.46,12.40 462.72,12.39 462.98,12.38 463.24,12.37 463.50,12.35 463.76,12.34 464.02,12.33 464.28,12.32 464.54,12.30 464.80,12.29 465.06,12.28 465.32,12.27 465.58,12.26 465.84,12.25 466.10,12.24 466.36,12.23 466.62,12.21 466.88,12.20 467.14,12.19 467.40,12.18 467.66,12.17 467.92,12.16 468.18,12.15 468.44,12.14 468.70,12.13 468.96,12.12 469.22,12.11 469.48,12.11 469.74,12.10 470.00,12.09 470.26,12.08 470.52,12.07 470.77,12.06 471.03,12.05 471.29,12.04 471.55,12.03 471.81,12.03 472.07,12.02 472.33,12.01 472.59,12.00 472.85,11.99 473.11,11.99 473.37,11.98 473.63,11.97 473.89,11.96 474.15,11.96 474.41,11.95 474.67,11.94 474.93,11.93 475.19,11.93 475.45,11.92 475.71,11.91 475.97,11.91 476.23,11.90 476.49,11.89 476.75,11.88 477.01,11.88 477.27,11.87 477.53,11.86 477.79,11.86 478.05,11.85 478.31,11.85 478.57,11.84 478.83,11.83 479.09,11.83 479.35,11.82 479.61,11.81 479.87,11.81 480.13,11.80 480.39,11.80 480.65,11.79 480.91,11.79 481.17,11.78 481.43,11.77 481.69,11.77 481.95,11.76 482.21,11.76 482.47,11.75 482.73,11.75 482.99,11.74 483.25,11.74 483.51,11.73 483.77,11.73 484.03,11.72 484.29,11.72 484.55,11.71 484.81,11.71 485.07,11.70 485.33,11.70 485.59,11.69 485.85,11.69 486.11,11.68 486.37,11.68 486.63,11.67 486.89,11.67 487.15,11.67 487.41,11.66 487.67,11.66 487.92,11.65 488.18,11.65 488.44,11.64 488.70,11.64 488.96,11.63 489.22,11.63 489.48,11.63 489.74,11.62 490.00,11.62 490.26,11.61 490.52,11.61 490.78,11.61 491.04,11.60 491.30,11.60 491.56,11.59 491.82,11.59 492.08,11.59 492.34,11.58 492.60,11.58 492.86,11.58 493.12,11.57 493.38,11.57 493.64,11.56 493.90,11.56 494.16,11.56 494.42,11.55 494.68,11.55 494.94,11.55 495.20,11.54 495.46,11.54 495.72,11.54 495.98,11.53 496.24,11.53 496.50,11.53"/>
</g>
<rect x="68.5" y="1.85" width="429.0" height="237.45000000000002" fill="none" stroke="#000" stroke-width="2.2"/>
<path d="M61.5,10.70H68.5M64.5,33.56H68.5M61.5,56.42H68.5M64.5,79.28H68.5M61.5,102.14H68.5M64.5,125.00H68.5M61.5,147.86H68.5M64.5,170.72H68.5M61.5,193.58H68.5M64.5,216.44H68.5M61.5,239.30H68.5M105.61,239.3V246.60000000000002M164.85,239.3V246.60000000000002M224.09,239.3V246.60000000000002M283.33,239.3V246.60000000000002M342.57,239.3V246.60000000000002M401.81,239.3V246.60000000000002M461.05,239.3V246.60000000000002M75.99,239.3V243.60000000000002M135.23,239.3V243.60000000000002M194.47,239.3V243.60000000000002M253.71,239.3V243.60000000000002M312.95,239.3V243.60000000000002M372.19,239.3V243.60000000000002M431.43,239.3V243.60000000000002M490.67,239.3V243.60000000000002" stroke="#000" stroke-width="2" fill="none"/>
<text x="57.8" y="15.90" font-family="Liberation Serif, serif" font-weight="bold" font-size="18.5" text-anchor="end">100</text>
<text x="57.8" y="61.62" font-family="Liberation Serif, serif" font-weight="bold" font-size="18.5" text-anchor="end">99</text>
<text x="57.8" y="107.34" font-family="Liberation Serif, serif" font-weight="bold" font-size="18.5" text-anchor="end">98</text>
<text x="57.8" y="153.06" font-family="Liberation Serif, serif" font-weight="bold" font-size="18.5" text-anchor="end">97</text>
<text x="57.8" y="198.78" font-family="Liberation Serif, serif" font-weight="bold" font-size="18.5" text-anchor="end">96</text>
<text x="57.8" y="244.50" font-family="Liberation Serif, serif" font-weight="bold" font-size="18.5" text-anchor="end">95</text>
<text x="105.61" y="265.5" font-family="Liberation Serif, serif" font-weight="bold" font-size="18.5" text-anchor="middle">-12</text>
<text x="164.85" y="265.5" font-family="Liberation Serif, serif" font-weight="bold" font-size="18.5" text-anchor="middle">-8</text>
<text x="224.09" y="265.5" font-family="Liberation Serif, serif" font-weight="bold" font-size="18.5" text-anchor="middle">-4</text>
<text x="283.33" y="265.5" font-family="Liberation Serif, serif" font-weight="bold" font-size="18.5" text-anchor="middle">0</text>
<text x="342.57" y="265.5" font-family="Liberation Serif, serif" font-weight="bold" font-size="18.5" text-anchor="middle">4</text>
<text x="401.81" y="265.5" font-family="Liberation Serif, serif" font-weight="bold" font-size="18.5" text-anchor="middle">8</text>
<text x="461.05" y="265.5" font-family="Liberation Serif, serif" font-weight="bold" font-size="18.5" text-anchor="middle">12</text>
<text x="283.5" y="292" font-family="Liberation Serif, serif" font-weight="bold" font-size="25.8" text-anchor="middle">Velocity (mm/s)</text>
<text transform="translate(20.0,118.9) rotate(-90)" x="0" y="0" font-family="Liberation Serif, serif" font-weight="bold" font-size="26" text-anchor="middle">Transmission %</text>
<circle cx="249.9" cy="136" r="5" fill="#000"/>
<text x="267.5" y="140.6" font-family="Liberation Serif, serif" font-weight="bold" font-size="14.7">Experimental</text>
<path d="M235.3,153.8H264.7" stroke="#ff0000" stroke-width="2.2"/>
<text x="267.5" y="158.4" font-family="Liberation Serif, serif" font-weight="bold" font-size="14.7">Simulated</text>
<path d="M235.3,172.1H264.7" stroke="#0000ff" stroke-width="2.2"/>
<text x="267.5" y="176.7" font-family="Liberation Serif, serif" font-weight="bold" font-size="14.7">Sextet 1</text>
<path d="M235.3,190.5H264.7" stroke="#00ff00" stroke-width="2.2"/>
<text x="267.5" y="195.1" font-family="Liberation Serif, serif" font-weight="bold" font-size="14.7">Sextet 2</text>
<path d="M235.3,209H264.7" stroke="#ff00ff" stroke-width="2.2"/>
<text x="267.5" y="213.6" font-family="Liberation Serif, serif" font-weight="bold" font-size="14.7">Sextet 3</text>
<path d="M235.3,227.1H264.7" stroke="#00ffff" stroke-width="2.2"/>
<text x="267.5" y="231.7" font-family="Liberation Serif, serif" font-weight="bold" font-size="14.7">Sextet 4</text>
</svg></body></html>
